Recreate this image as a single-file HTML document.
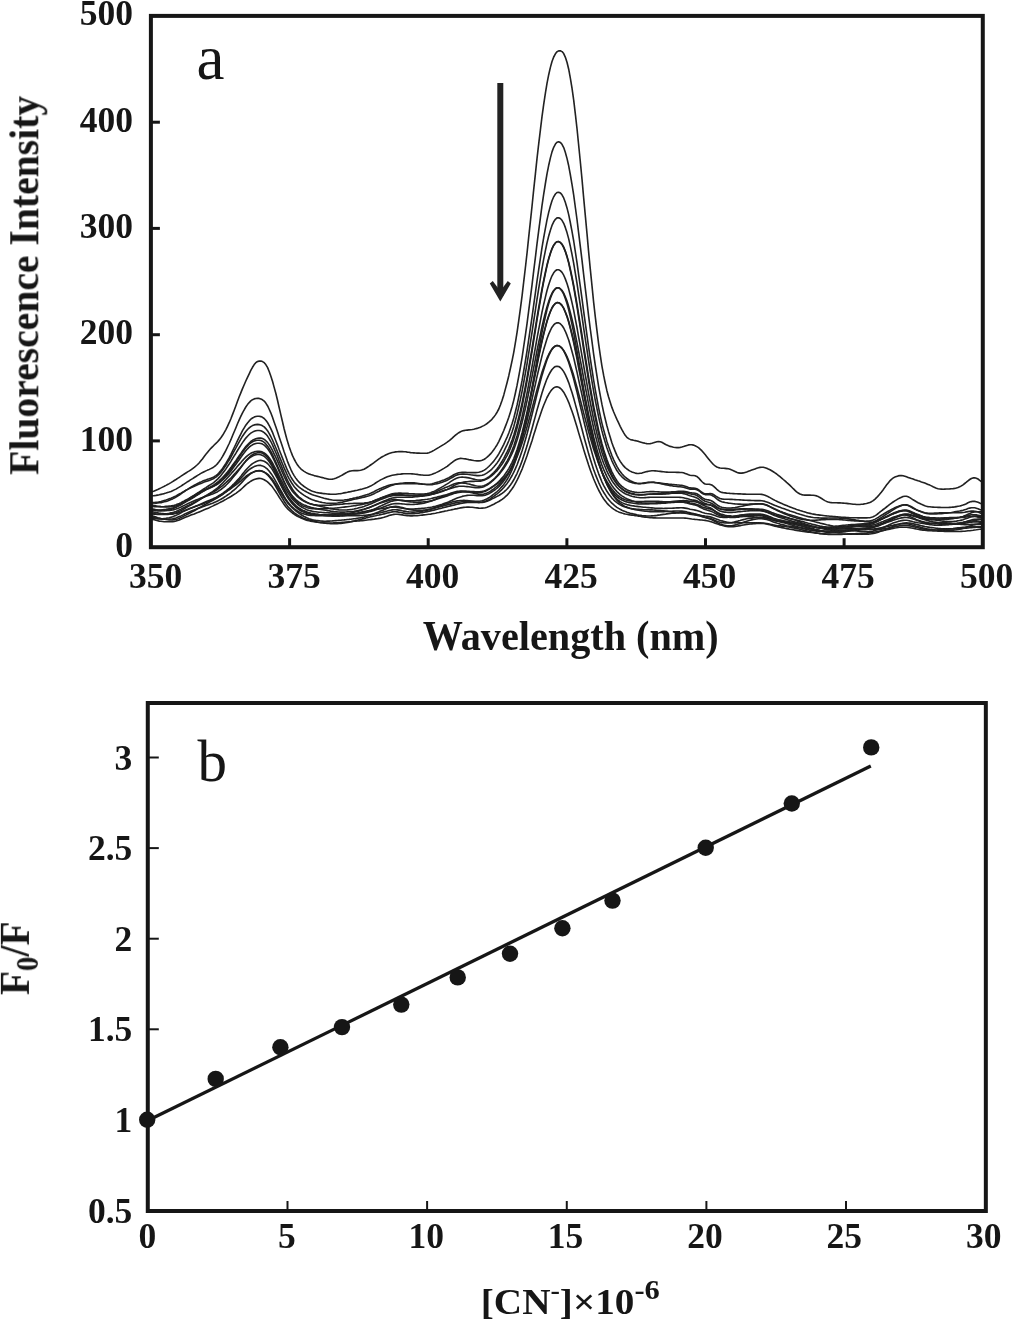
<!DOCTYPE html>
<html lang="en"><head><meta charset="utf-8"><title>Fluorescence quenching</title>
<style>
html,body{margin:0;padding:0;background:#fff;}
svg{display:block}
text{font-family:"Liberation Serif",serif;fill:#161616;}
.b{font-weight:bold}
.t{font-weight:bold;font-size:35.5px}
.c path{fill:none;stroke:#202020;stroke-width:1.6;stroke-linejoin:round}
</style></head><body>
<svg width="1013" height="1321" viewBox="0 0 1013 1321">
<defs><filter id="soft" x="0" y="0" width="1013" height="1321" filterUnits="userSpaceOnUse"><feGaussianBlur stdDeviation="0.45"/></filter></defs>
<rect width="1013" height="1321" fill="#fff"/>
<g filter="url(#soft)">

<g class="c">
<path d="M151.0,491.9 L152.7,491.5 L154.3,490.9 L156.0,490.2 L157.7,489.5 L159.3,488.7 L161.0,487.9 L162.6,487.1 L164.3,486.3 L166.0,485.4 L167.6,484.5 L169.3,483.6 L171.0,482.6 L172.6,481.6 L174.3,480.5 L176.0,479.5 L177.6,478.4 L179.3,477.3 L181.0,476.2 L182.6,475.1 L184.3,474.0 L185.9,473.0 L187.6,471.9 L189.3,470.9 L190.9,469.8 L192.6,468.6 L194.3,467.4 L195.9,466.0 L197.6,464.5 L199.3,462.7 L200.9,460.8 L202.6,458.7 L204.2,456.5 L205.9,454.3 L207.6,452.2 L209.2,450.2 L210.9,448.3 L212.6,446.7 L214.2,445.0 L215.9,443.4 L217.6,441.7 L219.2,439.9 L220.9,437.7 L222.6,435.3 L224.2,432.6 L225.9,429.6 L227.5,426.3 L229.2,422.7 L230.9,418.8 L232.5,414.6 L234.2,410.2 L235.9,405.7 L237.5,401.2 L239.2,396.8 L240.9,392.6 L242.5,388.6 L244.2,384.7 L245.8,381.0 L247.5,377.4 L249.2,373.8 L250.8,370.4 L252.5,367.3 L254.2,364.6 L255.8,362.7 L257.5,361.5 L259.2,361.1 L260.8,361.1 L262.5,361.6 L264.2,362.7 L265.8,364.6 L267.5,367.4 L269.1,371.2 L270.8,375.9 L272.5,381.3 L274.1,387.1 L275.8,393.3 L277.5,400.2 L279.1,407.3 L280.8,414.6 L282.5,421.8 L284.1,428.8 L285.8,435.2 L287.4,441.1 L289.1,446.4 L290.8,451.2 L292.4,455.4 L294.1,459.0 L295.8,462.2 L297.4,464.8 L299.1,467.0 L300.8,468.8 L302.4,470.2 L304.1,471.4 L305.8,472.4 L307.4,473.2 L309.1,473.9 L310.7,474.6 L312.4,475.1 L314.1,475.6 L315.7,476.0 L317.4,476.4 L319.1,476.8 L320.7,477.2 L322.4,477.6 L324.1,478.1 L325.7,478.5 L327.4,478.9 L329.0,479.2 L330.7,479.3 L332.4,479.1 L334.0,478.7 L335.7,478.2 L337.4,477.5 L339.0,476.8 L340.7,475.9 L342.4,475.0 L344.0,474.0 L345.7,473.0 L347.4,472.1 L349.0,471.4 L350.7,471.0 L352.3,470.7 L354.0,470.6 L355.7,470.6 L357.3,470.6 L359.0,470.5 L360.7,470.3 L362.3,469.8 L364.0,469.2 L365.7,468.3 L367.3,467.3 L369.0,466.2 L370.6,465.0 L372.3,463.8 L374.0,462.6 L375.6,461.3 L377.3,460.1 L379.0,458.9 L380.6,457.8 L382.3,456.8 L384.0,455.9 L385.6,455.0 L387.3,454.2 L389.0,453.5 L390.6,453.0 L392.3,452.5 L393.9,452.2 L395.6,451.9 L397.3,451.7 L398.9,451.6 L400.6,451.5 L402.3,451.6 L403.9,451.7 L405.6,451.8 L407.3,452.1 L408.9,452.3 L410.6,452.6 L412.2,452.8 L413.9,452.9 L415.6,453.0 L417.2,453.1 L418.9,453.1 L420.6,453.2 L422.2,453.2 L423.9,453.2 L425.6,453.2 L427.2,453.1 L428.9,452.7 L430.6,452.1 L432.2,451.3 L433.9,450.4 L435.5,449.4 L437.2,448.4 L438.9,447.4 L440.5,446.4 L442.2,445.4 L443.9,444.4 L445.5,443.3 L447.2,442.2 L448.9,440.9 L450.5,439.6 L452.2,438.1 L453.8,436.6 L455.5,435.2 L457.2,433.8 L458.8,432.7 L460.5,431.7 L462.2,431.1 L463.8,430.6 L465.5,430.3 L467.2,430.1 L468.8,429.9 L470.5,429.7 L472.2,429.5 L473.8,429.2 L475.5,428.8 L477.1,428.4 L478.8,427.8 L480.5,427.2 L482.1,426.4 L483.8,425.6 L485.5,424.6 L487.1,423.5 L488.8,422.2 L490.5,420.7 L492.1,419.1 L493.8,417.1 L495.4,414.9 L497.1,412.2 L498.8,409.0 L500.4,405.0 L502.1,400.3 L503.8,394.9 L505.4,388.9 L507.1,382.5 L508.8,375.7 L510.4,368.5 L512.1,360.7 L513.8,352.1 L515.4,342.6 L517.1,332.2 L518.7,320.9 L520.4,308.7 L522.1,295.7 L523.7,281.9 L525.4,267.5 L527.1,252.5 L528.7,237.1 L530.4,221.3 L532.1,205.5 L533.7,189.6 L535.4,173.9 L537.0,158.6 L538.7,143.9 L540.4,129.8 L542.0,116.6 L543.7,104.3 L545.4,93.2 L547.0,83.3 L548.7,74.7 L550.4,67.4 L552.0,61.5 L553.7,57.0 L555.4,53.8 L557.0,51.8 L558.7,50.9 L560.3,50.8 L562.0,51.6 L563.7,53.6 L565.3,57.1 L567.0,62.3 L568.7,69.2 L570.3,77.8 L572.0,88.2 L573.7,100.2 L575.3,113.7 L577.0,128.5 L578.6,144.5 L580.3,161.5 L582.0,179.1 L583.6,197.1 L585.3,215.4 L587.0,233.6 L588.6,251.6 L590.3,269.1 L592.0,285.9 L593.6,301.8 L595.3,316.8 L597.0,330.8 L598.6,343.6 L600.3,355.3 L601.9,365.8 L603.6,375.2 L605.3,383.5 L606.9,390.7 L608.6,397.0 L610.3,402.5 L611.9,407.4 L613.6,411.8 L615.3,415.7 L616.9,419.4 L618.6,422.9 L620.2,426.3 L621.9,429.7 L623.6,432.7 L625.2,435.3 L626.9,437.3 L628.6,438.6 L630.2,439.4 L631.9,439.9 L633.6,440.3 L635.2,440.6 L636.9,441.0 L638.6,441.4 L640.2,441.9 L641.9,442.4 L643.5,442.9 L645.2,443.3 L646.9,443.6 L648.5,443.7 L650.2,443.6 L651.9,443.3 L653.5,442.8 L655.2,442.2 L656.9,441.8 L658.5,441.6 L660.2,441.8 L661.8,442.3 L663.5,443.2 L665.2,444.2 L666.8,445.1 L668.5,445.8 L670.2,446.4 L671.8,446.8 L673.5,447.2 L675.2,447.5 L676.8,447.6 L678.5,447.6 L680.2,447.4 L681.8,447.0 L683.5,446.5 L685.1,445.9 L686.8,445.4 L688.5,444.9 L690.1,444.7 L691.8,444.7 L693.5,445.1 L695.1,445.7 L696.8,446.6 L698.5,447.7 L700.1,449.1 L701.8,450.7 L703.4,452.6 L705.1,454.6 L706.8,456.7 L708.4,458.7 L710.1,460.8 L711.8,462.7 L713.4,464.5 L715.1,465.9 L716.8,467.0 L718.4,467.6 L720.1,468.0 L721.8,468.2 L723.4,468.3 L725.1,468.4 L726.7,468.6 L728.4,468.8 L730.1,469.3 L731.7,469.9 L733.4,470.7 L735.1,471.5 L736.7,472.3 L738.4,472.9 L740.1,473.1 L741.7,473.1 L743.4,472.9 L745.0,472.4 L746.7,471.9 L748.4,471.3 L750.0,470.7 L751.7,470.1 L753.4,469.5 L755.0,468.9 L756.7,468.3 L758.4,467.8 L760.0,467.4 L761.7,467.2 L763.4,467.3 L765.0,467.7 L766.7,468.2 L768.3,469.0 L770.0,469.8 L771.7,470.8 L773.3,471.8 L775.0,472.9 L776.7,474.0 L778.3,475.3 L780.0,476.7 L781.7,478.1 L783.3,479.5 L785.0,480.9 L786.6,482.4 L788.3,483.8 L790.0,485.4 L791.6,487.0 L793.3,488.7 L795.0,490.3 L796.6,491.8 L798.3,493.0 L800.0,494.0 L801.6,494.6 L803.3,495.0 L805.0,495.1 L806.6,495.1 L808.3,495.1 L809.9,495.1 L811.6,495.2 L813.3,495.2 L814.9,495.5 L816.6,495.9 L818.3,496.6 L819.9,497.5 L821.6,498.5 L823.3,499.6 L824.9,500.6 L826.6,501.4 L828.2,502.0 L829.9,502.4 L831.6,502.6 L833.2,502.7 L834.9,502.8 L836.6,502.8 L838.2,502.9 L839.9,502.9 L841.6,503.0 L843.2,503.1 L844.9,503.2 L846.6,503.4 L848.2,503.6 L849.9,503.8 L851.5,504.0 L853.2,504.2 L854.9,504.3 L856.5,504.5 L858.2,504.5 L859.9,504.5 L861.5,504.3 L863.2,504.1 L864.9,503.8 L866.5,503.5 L868.2,503.0 L869.8,502.5 L871.5,501.7 L873.2,500.6 L874.8,499.3 L876.5,497.7 L878.2,495.9 L879.8,494.0 L881.5,491.9 L883.2,489.7 L884.8,487.4 L886.5,485.1 L888.2,482.9 L889.8,480.9 L891.5,479.3 L893.1,478.0 L894.8,477.1 L896.5,476.4 L898.1,475.9 L899.8,475.6 L901.5,475.6 L903.1,475.8 L904.8,476.2 L906.5,476.8 L908.1,477.4 L909.8,478.0 L911.4,478.6 L913.1,479.1 L914.8,479.7 L916.4,480.2 L918.1,480.8 L919.8,481.3 L921.4,481.9 L923.1,482.4 L924.8,483.0 L926.4,483.7 L928.1,484.4 L929.8,485.1 L931.4,485.9 L933.1,486.8 L934.7,487.5 L936.4,488.2 L938.1,488.7 L939.7,489.0 L941.4,489.1 L943.1,489.2 L944.7,489.1 L946.4,489.0 L948.1,489.0 L949.7,488.9 L951.4,488.7 L953.0,488.6 L954.7,488.4 L956.4,488.0 L958.0,487.5 L959.7,486.8 L961.4,485.9 L963.0,484.8 L964.7,483.5 L966.4,482.2 L968.0,480.8 L969.7,479.5 L971.4,478.5 L973.0,477.9 L974.7,477.8 L976.3,478.2 L978.0,479.0 L979.7,480.3 L981.3,481.5 L983.0,482.6"/>
<path d="M151.0,495.8 L152.7,495.7 L154.3,495.6 L156.0,495.4 L157.7,495.1 L159.3,494.8 L161.0,494.4 L162.6,494.0 L164.3,493.6 L166.0,493.1 L167.6,492.5 L169.3,492.0 L171.0,491.4 L172.6,490.7 L174.3,489.9 L176.0,489.1 L177.6,488.1 L179.3,487.1 L181.0,486.1 L182.6,485.0 L184.3,483.9 L185.9,482.8 L187.6,481.7 L189.3,480.7 L190.9,479.6 L192.6,478.6 L194.3,477.5 L195.9,476.5 L197.6,475.4 L199.3,474.4 L200.9,473.4 L202.6,472.5 L204.2,471.7 L205.9,470.9 L207.6,470.1 L209.2,469.4 L210.9,468.6 L212.6,467.8 L214.2,466.7 L215.9,465.3 L217.6,463.6 L219.2,461.5 L220.9,459.1 L222.6,456.4 L224.2,453.5 L225.9,450.4 L227.5,447.0 L229.2,443.5 L230.9,439.7 L232.5,435.7 L234.2,431.7 L235.9,427.7 L237.5,423.8 L239.2,419.9 L240.9,416.2 L242.5,412.8 L244.2,409.8 L245.8,407.0 L247.5,404.6 L249.2,402.6 L250.8,400.9 L252.5,399.7 L254.2,398.9 L255.8,398.5 L257.5,398.3 L259.2,398.4 L260.8,398.9 L262.5,399.8 L264.2,401.1 L265.8,403.1 L267.5,405.7 L269.1,409.0 L270.8,412.8 L272.5,417.2 L274.1,421.9 L275.8,426.8 L277.5,431.7 L279.1,436.7 L280.8,441.8 L282.5,446.8 L284.1,451.7 L285.8,456.5 L287.4,461.1 L289.1,465.4 L290.8,469.3 L292.4,472.7 L294.1,475.6 L295.8,478.1 L297.4,480.3 L299.1,482.2 L300.8,483.8 L302.4,485.2 L304.1,486.5 L305.8,487.6 L307.4,488.7 L309.1,489.6 L310.7,490.5 L312.4,491.2 L314.1,491.7 L315.7,492.2 L317.4,492.6 L319.1,492.9 L320.7,493.1 L322.4,493.4 L324.1,493.6 L325.7,493.8 L327.4,494.0 L329.0,494.1 L330.7,494.2 L332.4,494.2 L334.0,494.2 L335.7,494.2 L337.4,494.0 L339.0,493.8 L340.7,493.6 L342.4,493.3 L344.0,492.9 L345.7,492.6 L347.4,492.3 L349.0,491.9 L350.7,491.6 L352.3,491.2 L354.0,490.9 L355.7,490.5 L357.3,490.2 L359.0,489.8 L360.7,489.4 L362.3,489.0 L364.0,488.5 L365.7,488.0 L367.3,487.5 L369.0,486.8 L370.6,486.1 L372.3,485.1 L374.0,484.1 L375.6,483.0 L377.3,481.9 L379.0,480.9 L380.6,479.9 L382.3,479.1 L384.0,478.3 L385.6,477.5 L387.3,476.8 L389.0,476.2 L390.6,475.7 L392.3,475.3 L393.9,475.0 L395.6,474.7 L397.3,474.4 L398.9,474.2 L400.6,474.1 L402.3,473.9 L403.9,473.8 L405.6,473.7 L407.3,473.7 L408.9,473.7 L410.6,473.8 L412.2,473.9 L413.9,474.0 L415.6,474.2 L417.2,474.4 L418.9,474.7 L420.6,474.9 L422.2,475.0 L423.9,475.2 L425.6,475.3 L427.2,475.3 L428.9,475.1 L430.6,474.8 L432.2,474.3 L433.9,473.6 L435.5,472.9 L437.2,472.1 L438.9,471.3 L440.5,470.4 L442.2,469.4 L443.9,468.4 L445.5,467.4 L447.2,466.3 L448.9,465.0 L450.5,463.7 L452.2,462.4 L453.8,461.1 L455.5,460.0 L457.2,459.2 L458.8,458.7 L460.5,458.4 L462.2,458.5 L463.8,458.7 L465.5,458.9 L467.2,459.2 L468.8,459.6 L470.5,459.9 L472.2,460.2 L473.8,460.5 L475.5,460.7 L477.1,460.9 L478.8,460.9 L480.5,460.7 L482.1,460.2 L483.8,459.5 L485.5,458.5 L487.1,457.2 L488.8,455.6 L490.5,453.9 L492.1,452.0 L493.8,449.8 L495.4,447.4 L497.1,444.7 L498.8,441.6 L500.4,438.1 L502.1,434.4 L503.8,430.5 L505.4,426.4 L507.1,422.0 L508.8,417.3 L510.4,412.2 L512.1,406.5 L513.8,400.1 L515.4,393.0 L517.1,385.2 L518.7,376.6 L520.4,367.3 L522.1,357.3 L523.7,346.5 L525.4,335.1 L527.1,323.1 L528.7,310.6 L530.4,297.6 L532.1,284.3 L533.7,270.9 L535.4,257.3 L537.0,243.9 L538.7,230.7 L540.4,217.9 L542.0,205.7 L543.7,194.1 L545.4,183.5 L547.0,173.8 L548.7,165.3 L550.4,157.9 L552.0,151.9 L553.7,147.3 L555.4,144.1 L557.0,142.2 L558.7,141.7 L560.3,142.4 L562.0,144.3 L563.7,147.6 L565.3,152.3 L567.0,158.4 L568.7,165.8 L570.3,174.5 L572.0,184.3 L573.7,195.2 L575.3,207.0 L577.0,219.5 L578.6,232.7 L580.3,246.3 L582.0,260.2 L583.6,274.2 L585.3,288.3 L587.0,302.2 L588.6,315.8 L590.3,329.0 L592.0,341.7 L593.6,353.8 L595.3,365.3 L597.0,376.2 L598.6,386.3 L600.3,395.6 L601.9,404.2 L603.6,412.1 L605.3,419.2 L606.9,425.8 L608.6,431.9 L610.3,437.5 L611.9,442.7 L613.6,447.4 L615.3,451.6 L616.9,455.4 L618.6,458.6 L620.2,461.4 L621.9,463.8 L623.6,465.9 L625.2,467.6 L626.9,469.0 L628.6,470.2 L630.2,471.1 L631.9,472.0 L633.6,472.6 L635.2,473.1 L636.9,473.4 L638.6,473.5 L640.2,473.3 L641.9,473.1 L643.5,472.6 L645.2,472.1 L646.9,471.6 L648.5,471.2 L650.2,471.0 L651.9,470.8 L653.5,470.8 L655.2,470.9 L656.9,471.0 L658.5,471.2 L660.2,471.4 L661.8,471.6 L663.5,471.8 L665.2,472.0 L666.8,472.1 L668.5,472.2 L670.2,472.2 L671.8,472.3 L673.5,472.3 L675.2,472.3 L676.8,472.4 L678.5,472.4 L680.2,472.5 L681.8,472.5 L683.5,472.8 L685.1,473.4 L686.8,474.0 L688.5,474.7 L690.1,475.2 L691.8,475.5 L693.5,475.5 L695.1,475.7 L696.8,476.4 L698.5,477.8 L700.1,479.6 L701.8,481.5 L703.4,483.0 L705.1,484.0 L706.8,484.3 L708.4,484.3 L710.1,484.4 L711.8,485.0 L713.4,486.1 L715.1,487.6 L716.8,489.3 L718.4,490.7 L720.1,491.8 L721.8,492.4 L723.4,492.8 L725.1,492.9 L726.7,493.1 L728.4,493.2 L730.1,493.4 L731.7,493.5 L733.4,493.6 L735.1,493.7 L736.7,493.8 L738.4,493.9 L740.1,493.9 L741.7,494.0 L743.4,494.1 L745.0,494.1 L746.7,494.2 L748.4,494.2 L750.0,494.2 L751.7,494.2 L753.4,494.2 L755.0,494.2 L756.7,494.2 L758.4,494.2 L760.0,494.3 L761.7,494.4 L763.4,494.7 L765.0,495.2 L766.7,495.9 L768.3,496.7 L770.0,497.6 L771.7,498.6 L773.3,499.5 L775.0,500.4 L776.7,501.2 L778.3,502.0 L780.0,502.7 L781.7,503.4 L783.3,504.2 L785.0,504.9 L786.6,505.6 L788.3,506.3 L790.0,506.9 L791.6,507.6 L793.3,508.2 L795.0,508.8 L796.6,509.4 L798.3,509.9 L800.0,510.5 L801.6,511.0 L803.3,511.6 L805.0,512.1 L806.6,512.6 L808.3,513.0 L809.9,513.4 L811.6,513.8 L813.3,514.1 L814.9,514.4 L816.6,514.7 L818.3,514.9 L819.9,515.1 L821.6,515.3 L823.3,515.5 L824.9,515.7 L826.6,515.9 L828.2,516.0 L829.9,516.2 L831.6,516.3 L833.2,516.5 L834.9,516.6 L836.6,516.7 L838.2,516.9 L839.9,517.0 L841.6,517.2 L843.2,517.3 L844.9,517.4 L846.6,517.5 L848.2,517.6 L849.9,517.7 L851.5,517.8 L853.2,517.8 L854.9,517.8 L856.5,517.8 L858.2,517.9 L859.9,517.9 L861.5,517.9 L863.2,517.9 L864.9,517.9 L866.5,517.9 L868.2,517.8 L869.8,517.7 L871.5,517.3 L873.2,516.8 L874.8,515.9 L876.5,514.8 L878.2,513.5 L879.8,512.1 L881.5,510.8 L883.2,509.5 L884.8,508.3 L886.5,507.0 L888.2,505.7 L889.8,504.4 L891.5,503.2 L893.1,502.0 L894.8,500.9 L896.5,499.9 L898.1,498.9 L899.8,498.0 L901.5,497.2 L903.1,496.5 L904.8,496.2 L906.5,496.3 L908.1,496.8 L909.8,497.6 L911.4,498.7 L913.1,499.8 L914.8,500.8 L916.4,501.8 L918.1,502.7 L919.8,503.5 L921.4,504.3 L923.1,505.0 L924.8,505.7 L926.4,506.2 L928.1,506.6 L929.8,506.8 L931.4,507.0 L933.1,507.1 L934.7,507.2 L936.4,507.3 L938.1,507.4 L939.7,507.4 L941.4,507.5 L943.1,507.5 L944.7,507.5 L946.4,507.5 L948.1,507.5 L949.7,507.4 L951.4,507.3 L953.0,507.1 L954.7,506.9 L956.4,506.6 L958.0,506.3 L959.7,506.0 L961.4,505.6 L963.0,505.1 L964.7,504.4 L966.4,503.7 L968.0,502.8 L969.7,502.1 L971.4,501.6 L973.0,501.3 L974.7,501.4 L976.3,501.7 L978.0,502.2 L979.7,503.0 L981.3,503.7 L983.0,504.3"/>
<path d="M151.0,502.8 L152.7,503.0 L154.3,503.0 L156.0,503.1 L157.7,503.0 L159.3,502.8 L161.0,502.6 L162.6,502.2 L164.3,501.8 L166.0,501.4 L167.6,500.9 L169.3,500.3 L171.0,499.6 L172.6,498.9 L174.3,498.1 L176.0,497.1 L177.6,496.1 L179.3,495.0 L181.0,493.8 L182.6,492.7 L184.3,491.5 L185.9,490.4 L187.6,489.3 L189.3,488.2 L190.9,487.2 L192.6,486.3 L194.3,485.3 L195.9,484.4 L197.6,483.5 L199.3,482.6 L200.9,481.9 L202.6,481.1 L204.2,480.5 L205.9,479.9 L207.6,479.3 L209.2,478.8 L210.9,478.2 L212.6,477.6 L214.2,476.7 L215.9,475.6 L217.6,474.3 L219.2,472.6 L220.9,470.6 L222.6,468.4 L224.2,466.0 L225.9,463.4 L227.5,460.6 L229.2,457.6 L230.9,454.3 L232.5,451.0 L234.2,447.5 L235.9,444.0 L237.5,440.6 L239.2,437.1 L240.9,433.8 L242.5,430.7 L244.2,427.8 L245.8,425.2 L247.5,422.9 L249.2,420.9 L250.8,419.2 L252.5,418.0 L254.2,417.1 L255.8,416.5 L257.5,416.2 L259.2,416.2 L260.8,416.6 L262.5,417.3 L264.2,418.5 L265.8,420.2 L267.5,422.5 L269.1,425.3 L270.8,428.7 L272.5,432.4 L274.1,436.5 L275.8,440.8 L277.5,445.1 L279.1,449.5 L280.8,453.8 L282.5,458.1 L284.1,462.3 L285.8,466.4 L287.4,470.2 L289.1,473.7 L290.8,476.8 L292.4,479.5 L294.1,481.9 L295.8,483.9 L297.4,485.6 L299.1,487.1 L300.8,488.4 L302.4,489.5 L304.1,490.6 L305.8,491.5 L307.4,492.4 L309.1,493.3 L310.7,494.0 L312.4,494.7 L314.1,495.3 L315.7,495.8 L317.4,496.3 L319.1,496.8 L320.7,497.3 L322.4,497.7 L324.1,498.2 L325.7,498.6 L327.4,499.0 L329.0,499.4 L330.7,499.7 L332.4,500.0 L334.0,500.2 L335.7,500.3 L337.4,500.4 L339.0,500.4 L340.7,500.3 L342.4,500.2 L344.0,500.0 L345.7,499.7 L347.4,499.5 L349.0,499.2 L350.7,498.8 L352.3,498.5 L354.0,498.1 L355.7,497.8 L357.3,497.4 L359.0,497.0 L360.7,496.5 L362.3,496.1 L364.0,495.6 L365.7,495.1 L367.3,494.6 L369.0,494.0 L370.6,493.3 L372.3,492.5 L374.0,491.7 L375.6,490.8 L377.3,489.9 L379.0,489.1 L380.6,488.4 L382.3,487.7 L384.0,487.0 L385.6,486.4 L387.3,485.8 L389.0,485.3 L390.6,484.9 L392.3,484.6 L393.9,484.3 L395.6,484.1 L397.3,484.0 L398.9,483.8 L400.6,483.7 L402.3,483.7 L403.9,483.6 L405.6,483.6 L407.3,483.6 L408.9,483.5 L410.6,483.6 L412.2,483.6 L413.9,483.6 L415.6,483.7 L417.2,483.8 L418.9,483.9 L420.6,484.0 L422.2,484.1 L423.9,484.2 L425.6,484.3 L427.2,484.3 L428.9,484.2 L430.6,484.0 L432.2,483.7 L433.9,483.3 L435.5,482.8 L437.2,482.3 L438.9,481.8 L440.5,481.2 L442.2,480.6 L443.9,480.0 L445.5,479.3 L447.2,478.5 L448.9,477.7 L450.5,476.8 L452.2,475.8 L453.8,474.8 L455.5,473.9 L457.2,473.2 L458.8,472.8 L460.5,472.5 L462.2,472.4 L463.8,472.4 L465.5,472.4 L467.2,472.5 L468.8,472.5 L470.5,472.6 L472.2,472.6 L473.8,472.6 L475.5,472.6 L477.1,472.5 L478.8,472.2 L480.5,471.8 L482.1,471.2 L483.8,470.4 L485.5,469.3 L487.1,468.0 L488.8,466.5 L490.5,464.8 L492.1,463.0 L493.8,461.1 L495.4,458.9 L497.1,456.5 L498.8,453.9 L500.4,450.9 L502.1,447.7 L503.8,444.4 L505.4,440.8 L507.1,437.1 L508.8,433.0 L510.4,428.5 L512.1,423.5 L513.8,418.0 L515.4,411.8 L517.1,404.9 L518.7,397.4 L520.4,389.2 L522.1,380.4 L523.7,371.0 L525.4,361.0 L527.1,350.5 L528.7,339.5 L530.4,328.2 L532.1,316.6 L533.7,304.8 L535.4,292.9 L537.0,281.2 L538.7,269.6 L540.4,258.4 L542.0,247.7 L543.7,237.6 L545.4,228.3 L547.0,219.9 L548.7,212.4 L550.4,206.0 L552.0,200.8 L553.7,196.8 L555.4,194.0 L557.0,192.5 L558.7,192.2 L560.3,192.9 L562.0,194.8 L563.7,197.9 L565.3,202.3 L567.0,207.9 L568.7,214.6 L570.3,222.5 L572.0,231.3 L573.7,241.0 L575.3,251.5 L577.0,262.7 L578.6,274.4 L580.3,286.4 L582.0,298.6 L583.6,310.9 L585.3,323.2 L587.0,335.3 L588.6,347.1 L590.3,358.6 L592.0,369.6 L593.6,380.0 L595.3,389.9 L597.0,399.2 L598.6,407.8 L600.3,415.8 L601.9,423.1 L603.6,429.7 L605.3,435.8 L606.9,441.4 L608.6,446.5 L610.3,451.2 L611.9,455.6 L613.6,459.6 L615.3,463.2 L616.9,466.4 L618.6,469.2 L620.2,471.6 L621.9,473.7 L623.6,475.6 L625.2,477.2 L626.9,478.5 L628.6,479.7 L630.2,480.7 L631.9,481.5 L633.6,482.3 L635.2,482.8 L636.9,483.3 L638.6,483.5 L640.2,483.6 L641.9,483.5 L643.5,483.4 L645.2,483.1 L646.9,482.8 L648.5,482.6 L650.2,482.5 L651.9,482.4 L653.5,482.4 L655.2,482.6 L656.9,482.7 L658.5,482.9 L660.2,483.1 L661.8,483.3 L663.5,483.5 L665.2,483.7 L666.8,483.9 L668.5,484.1 L670.2,484.2 L671.8,484.4 L673.5,484.5 L675.2,484.7 L676.8,484.9 L678.5,485.0 L680.2,485.2 L681.8,485.4 L683.5,485.7 L685.1,486.2 L686.8,486.8 L688.5,487.4 L690.1,487.9 L691.8,488.1 L693.5,488.1 L695.1,488.2 L696.8,488.7 L698.5,489.7 L700.1,491.0 L701.8,492.3 L703.4,493.3 L705.1,493.9 L706.8,493.9 L708.4,493.7 L710.1,493.6 L711.8,493.8 L713.4,494.5 L715.1,495.6 L716.8,496.8 L718.4,497.8 L720.1,498.5 L721.8,498.9 L723.4,499.1 L725.1,499.2 L726.7,499.2 L728.4,499.3 L730.1,499.4 L731.7,499.4 L733.4,499.5 L735.1,499.6 L736.7,499.7 L738.4,499.8 L740.1,499.9 L741.7,500.0 L743.4,500.1 L745.0,500.2 L746.7,500.3 L748.4,500.4 L750.0,500.4 L751.7,500.5 L753.4,500.5 L755.0,500.6 L756.7,500.6 L758.4,500.6 L760.0,500.6 L761.7,500.8 L763.4,501.0 L765.0,501.4 L766.7,501.9 L768.3,502.5 L770.0,503.3 L771.7,504.0 L773.3,504.7 L775.0,505.4 L776.7,506.1 L778.3,506.7 L780.0,507.3 L781.7,507.9 L783.3,508.4 L785.0,509.1 L786.6,509.7 L788.3,510.3 L790.0,510.9 L791.6,511.4 L793.3,512.0 L795.0,512.6 L796.6,513.2 L798.3,513.7 L800.0,514.3 L801.6,514.8 L803.3,515.3 L805.0,515.8 L806.6,516.2 L808.3,516.6 L809.9,516.9 L811.6,517.2 L813.3,517.5 L814.9,517.7 L816.6,517.8 L818.3,517.9 L819.9,518.0 L821.6,518.1 L823.3,518.1 L824.9,518.1 L826.6,518.1 L828.2,518.0 L829.9,518.0 L831.6,518.0 L833.2,518.0 L834.9,518.0 L836.6,518.0 L838.2,518.0 L839.9,518.1 L841.6,518.2 L843.2,518.4 L844.9,518.5 L846.6,518.7 L848.2,518.9 L849.9,519.1 L851.5,519.4 L853.2,519.6 L854.9,519.9 L856.5,520.2 L858.2,520.4 L859.9,520.7 L861.5,521.0 L863.2,521.3 L864.9,521.6 L866.5,521.8 L868.2,522.0 L869.8,522.1 L871.5,522.1 L873.2,521.7 L874.8,521.2 L876.5,520.4 L878.2,519.4 L879.8,518.4 L881.5,517.4 L883.2,516.3 L884.8,515.3 L886.5,514.2 L888.2,513.1 L889.8,512.0 L891.5,510.9 L893.1,509.8 L894.8,508.8 L896.5,507.9 L898.1,507.0 L899.8,506.2 L901.5,505.5 L903.1,505.0 L904.8,504.7 L906.5,504.8 L908.1,505.2 L909.8,505.9 L911.4,506.8 L913.1,507.8 L914.8,508.7 L916.4,509.6 L918.1,510.4 L919.8,511.1 L921.4,511.8 L923.1,512.4 L924.8,513.0 L926.4,513.4 L928.1,513.7 L929.8,513.9 L931.4,514.0 L933.1,514.0 L934.7,514.0 L936.4,513.9 L938.1,513.8 L939.7,513.7 L941.4,513.6 L943.1,513.5 L944.7,513.3 L946.4,513.2 L948.1,513.0 L949.7,512.7 L951.4,512.5 L953.0,512.2 L954.7,511.9 L956.4,511.6 L958.0,511.3 L959.7,511.0 L961.4,510.6 L963.0,510.2 L964.7,509.7 L966.4,509.2 L968.0,508.6 L969.7,508.1 L971.4,507.8 L973.0,507.7 L974.7,507.8 L976.3,508.2 L978.0,508.7 L979.7,509.5 L981.3,510.1 L983.0,510.7"/>
<path d="M151.0,502.7 L152.7,502.6 L154.3,502.6 L156.0,502.4 L157.7,502.2 L159.3,501.9 L161.0,501.5 L162.6,501.0 L164.3,500.5 L166.0,500.0 L167.6,499.4 L169.3,498.8 L171.0,498.2 L172.6,497.5 L174.3,496.7 L176.0,495.9 L177.6,495.0 L179.3,494.0 L181.0,493.1 L182.6,492.1 L184.3,491.2 L185.9,490.3 L187.6,489.4 L189.3,488.6 L190.9,487.8 L192.6,487.1 L194.3,486.3 L195.9,485.6 L197.6,484.8 L199.3,484.1 L200.9,483.4 L202.6,482.8 L204.2,482.1 L205.9,481.6 L207.6,481.0 L209.2,480.4 L210.9,479.8 L212.6,479.1 L214.2,478.2 L215.9,477.1 L217.6,475.7 L219.2,474.1 L220.9,472.2 L222.6,470.0 L224.2,467.8 L225.9,465.3 L227.5,462.7 L229.2,460.0 L230.9,457.0 L232.5,454.0 L234.2,450.9 L235.9,447.9 L237.5,444.8 L239.2,441.8 L240.9,438.9 L242.5,436.2 L244.2,433.7 L245.8,431.5 L247.5,429.5 L249.2,427.9 L250.8,426.6 L252.5,425.6 L254.2,424.9 L255.8,424.6 L257.5,424.4 L259.2,424.6 L260.8,425.0 L262.5,425.8 L264.2,426.9 L265.8,428.6 L267.5,430.7 L269.1,433.4 L270.8,436.5 L272.5,440.0 L274.1,443.8 L275.8,447.8 L277.5,451.8 L279.1,455.9 L280.8,459.9 L282.5,464.0 L284.1,467.9 L285.8,471.7 L287.4,475.3 L289.1,478.6 L290.8,481.5 L292.4,484.1 L294.1,486.4 L295.8,488.4 L297.4,490.1 L299.1,491.6 L300.8,493.0 L302.4,494.2 L304.1,495.3 L305.8,496.4 L307.4,497.3 L309.1,498.2 L310.7,499.0 L312.4,499.7 L314.1,500.3 L315.7,500.9 L317.4,501.3 L319.1,501.8 L320.7,502.1 L322.4,502.5 L324.1,502.7 L325.7,503.0 L327.4,503.2 L329.0,503.3 L330.7,503.4 L332.4,503.4 L334.0,503.3 L335.7,503.2 L337.4,503.0 L339.0,502.7 L340.7,502.4 L342.4,502.1 L344.0,501.7 L345.7,501.3 L347.4,500.9 L349.0,500.5 L350.7,500.1 L352.3,499.7 L354.0,499.3 L355.7,499.0 L357.3,498.6 L359.0,498.2 L360.7,497.9 L362.3,497.5 L364.0,497.1 L365.7,496.7 L367.3,496.3 L369.0,495.8 L370.6,495.2 L372.3,494.5 L374.0,493.7 L375.6,492.9 L377.3,492.0 L379.0,491.2 L380.6,490.3 L382.3,489.5 L384.0,488.8 L385.6,488.0 L387.3,487.2 L389.0,486.5 L390.6,485.8 L392.3,485.2 L393.9,484.7 L395.6,484.3 L397.3,483.9 L398.9,483.6 L400.6,483.4 L402.3,483.2 L403.9,483.0 L405.6,482.9 L407.3,482.8 L408.9,482.8 L410.6,482.8 L412.2,482.8 L413.9,482.9 L415.6,483.1 L417.2,483.3 L418.9,483.5 L420.6,483.7 L422.2,484.0 L423.9,484.2 L425.6,484.5 L427.2,484.7 L428.9,484.8 L430.6,484.7 L432.2,484.6 L433.9,484.3 L435.5,484.0 L437.2,483.6 L438.9,483.2 L440.5,482.7 L442.2,482.2 L443.9,481.6 L445.5,480.9 L447.2,480.2 L448.9,479.4 L450.5,478.4 L452.2,477.5 L453.8,476.5 L455.5,475.6 L457.2,474.9 L458.8,474.5 L460.5,474.2 L462.2,474.1 L463.8,474.1 L465.5,474.2 L467.2,474.3 L468.8,474.5 L470.5,474.8 L472.2,475.0 L473.8,475.2 L475.5,475.4 L477.1,475.6 L478.8,475.6 L480.5,475.5 L482.1,475.2 L483.8,474.7 L485.5,473.9 L487.1,472.9 L488.8,471.7 L490.5,470.3 L492.1,468.8 L493.8,467.0 L495.4,465.1 L497.1,462.9 L498.8,460.5 L500.4,457.7 L502.1,454.7 L503.8,451.6 L505.4,448.2 L507.1,444.6 L508.8,440.7 L510.4,436.5 L512.1,431.7 L513.8,426.4 L515.4,420.5 L517.1,414.1 L518.7,407.0 L520.4,399.4 L522.1,391.1 L523.7,382.4 L525.4,373.1 L527.1,363.3 L528.7,353.2 L530.4,342.7 L532.1,331.9 L533.7,321.1 L535.4,310.1 L537.0,299.3 L538.7,288.7 L540.4,278.4 L542.0,268.5 L543.7,259.2 L545.4,250.7 L547.0,242.9 L548.7,236.0 L550.4,230.2 L552.0,225.4 L553.7,221.8 L555.4,219.3 L557.0,217.9 L558.7,217.7 L560.3,218.5 L562.0,220.3 L563.7,223.3 L565.3,227.4 L567.0,232.6 L568.7,238.9 L570.3,246.2 L572.0,254.4 L573.7,263.4 L575.3,273.1 L577.0,283.4 L578.6,294.1 L580.3,305.2 L582.0,316.4 L583.6,327.7 L585.3,339.0 L587.0,350.1 L588.6,360.9 L590.3,371.5 L592.0,381.6 L593.6,391.2 L595.3,400.3 L597.0,408.8 L598.6,416.7 L600.3,424.1 L601.9,430.9 L603.6,437.0 L605.3,442.6 L606.9,447.8 L608.6,452.5 L610.3,456.8 L611.9,460.8 L613.6,464.4 L615.3,467.7 L616.9,470.5 L618.6,472.9 L620.2,475.0 L621.9,476.8 L623.6,478.3 L625.2,479.6 L626.9,480.6 L628.6,481.4 L630.2,482.1 L631.9,482.6 L633.6,483.0 L635.2,483.4 L636.9,483.5 L638.6,483.6 L640.2,483.5 L641.9,483.3 L643.5,483.0 L645.2,482.7 L646.9,482.5 L648.5,482.3 L650.2,482.2 L651.9,482.2 L653.5,482.3 L655.2,482.5 L656.9,482.8 L658.5,483.1 L660.2,483.5 L661.8,483.9 L663.5,484.3 L665.2,484.6 L666.8,485.0 L668.5,485.3 L670.2,485.6 L671.8,485.8 L673.5,486.1 L675.2,486.3 L676.8,486.5 L678.5,486.7 L680.2,486.8 L681.8,487.0 L683.5,487.3 L685.1,487.7 L686.8,488.2 L688.5,488.7 L690.1,489.1 L691.8,489.2 L693.5,489.2 L695.1,489.2 L696.8,489.7 L698.5,490.5 L700.1,491.7 L701.8,493.0 L703.4,494.0 L705.1,494.6 L706.8,494.7 L708.4,494.7 L710.1,494.8 L711.8,495.3 L713.4,496.2 L715.1,497.4 L716.8,498.8 L718.4,500.0 L720.1,501.0 L721.8,501.7 L723.4,502.1 L725.1,502.5 L726.7,502.8 L728.4,503.1 L730.1,503.3 L731.7,503.5 L733.4,503.7 L735.1,503.9 L736.7,504.0 L738.4,504.1 L740.1,504.1 L741.7,504.2 L743.4,504.2 L745.0,504.2 L746.7,504.2 L748.4,504.2 L750.0,504.1 L751.7,504.1 L753.4,504.0 L755.0,504.0 L756.7,503.9 L758.4,503.9 L760.0,503.9 L761.7,504.0 L763.4,504.3 L765.0,504.7 L766.7,505.3 L768.3,506.0 L770.0,506.8 L771.7,507.7 L773.3,508.5 L775.0,509.4 L776.7,510.2 L778.3,511.0 L780.0,511.7 L781.7,512.5 L783.3,513.2 L785.0,513.9 L786.6,514.6 L788.3,515.3 L790.0,515.9 L791.6,516.5 L793.3,517.1 L795.0,517.6 L796.6,518.1 L798.3,518.5 L800.0,518.9 L801.6,519.2 L803.3,519.5 L805.0,519.8 L806.6,519.9 L808.3,520.1 L809.9,520.2 L811.6,520.2 L813.3,520.2 L814.9,520.2 L816.6,520.1 L818.3,520.0 L819.9,519.9 L821.6,519.8 L823.3,519.7 L824.9,519.6 L826.6,519.5 L828.2,519.5 L829.9,519.4 L831.6,519.4 L833.2,519.4 L834.9,519.4 L836.6,519.4 L838.2,519.5 L839.9,519.6 L841.6,519.7 L843.2,519.9 L844.9,520.0 L846.6,520.2 L848.2,520.4 L849.9,520.5 L851.5,520.6 L853.2,520.8 L854.9,520.9 L856.5,521.0 L858.2,521.0 L859.9,521.1 L861.5,521.1 L863.2,521.1 L864.9,521.2 L866.5,521.1 L868.2,521.1 L869.8,520.9 L871.5,520.6 L873.2,520.1 L874.8,519.4 L876.5,518.4 L878.2,517.4 L879.8,516.3 L881.5,515.3 L883.2,514.3 L884.8,513.3 L886.5,512.3 L888.2,511.3 L889.8,510.4 L891.5,509.4 L893.1,508.6 L894.8,507.8 L896.5,507.1 L898.1,506.4 L899.8,505.8 L901.5,505.4 L903.1,505.0 L904.8,504.9 L906.5,505.1 L908.1,505.6 L909.8,506.4 L911.4,507.3 L913.1,508.2 L914.8,509.1 L916.4,509.9 L918.1,510.6 L919.8,511.3 L921.4,511.8 L923.1,512.3 L924.8,512.8 L926.4,513.0 L928.1,513.2 L929.8,513.3 L931.4,513.3 L933.1,513.2 L934.7,513.1 L936.4,513.1 L938.1,513.0 L939.7,512.9 L941.4,512.9 L943.1,512.8 L944.7,512.8 L946.4,512.8 L948.1,512.8 L949.7,512.8 L951.4,512.8 L953.0,512.8 L954.7,512.8 L956.4,512.8 L958.0,512.7 L959.7,512.7 L961.4,512.6 L963.0,512.5 L964.7,512.3 L966.4,511.9 L968.0,511.6 L969.7,511.3 L971.4,511.1 L973.0,511.1 L974.7,511.3 L976.3,511.6 L978.0,512.1 L979.7,512.8 L981.3,513.4 L983.0,513.9"/>
<path d="M151.0,506.4 L152.7,506.5 L154.3,506.6 L156.0,506.7 L157.7,506.8 L159.3,506.8 L161.0,506.7 L162.6,506.7 L164.3,506.6 L166.0,506.4 L167.6,506.3 L169.3,506.1 L171.0,505.9 L172.6,505.6 L174.3,505.2 L176.0,504.7 L177.6,504.1 L179.3,503.4 L181.0,502.6 L182.6,501.7 L184.3,500.9 L185.9,500.0 L187.6,499.1 L189.3,498.1 L190.9,497.2 L192.6,496.2 L194.3,495.2 L195.9,494.1 L197.6,493.0 L199.3,491.9 L200.9,490.8 L202.6,489.7 L204.2,488.6 L205.9,487.6 L207.6,486.5 L209.2,485.5 L210.9,484.4 L212.6,483.3 L214.2,482.1 L215.9,480.7 L217.6,479.1 L219.2,477.4 L220.9,475.4 L222.6,473.3 L224.2,471.2 L225.9,468.9 L227.5,466.5 L229.2,464.0 L230.9,461.4 L232.5,458.7 L234.2,455.9 L235.9,453.2 L237.5,450.5 L239.2,447.8 L240.9,445.1 L242.5,442.6 L244.2,440.2 L245.8,438.1 L247.5,436.2 L249.2,434.5 L250.8,433.1 L252.5,432.1 L254.2,431.3 L255.8,430.8 L257.5,430.5 L259.2,430.5 L260.8,430.8 L262.5,431.5 L264.2,432.6 L265.8,434.1 L267.5,436.1 L269.1,438.6 L270.8,441.5 L272.5,444.9 L274.1,448.6 L275.8,452.5 L277.5,456.5 L279.1,460.6 L280.8,464.6 L282.5,468.7 L284.1,472.7 L285.8,476.6 L287.4,480.2 L289.1,483.5 L290.8,486.5 L292.4,489.2 L294.1,491.5 L295.8,493.6 L297.4,495.4 L299.1,497.0 L300.8,498.4 L302.4,499.7 L304.1,500.8 L305.8,501.7 L307.4,502.6 L309.1,503.3 L310.7,503.9 L312.4,504.3 L314.1,504.7 L315.7,504.9 L317.4,505.1 L319.1,505.2 L320.7,505.3 L322.4,505.3 L324.1,505.3 L325.7,505.3 L327.4,505.2 L329.0,505.2 L330.7,505.1 L332.4,505.0 L334.0,504.8 L335.7,504.7 L337.4,504.5 L339.0,504.4 L340.7,504.2 L342.4,504.1 L344.0,503.9 L345.7,503.8 L347.4,503.7 L349.0,503.6 L350.7,503.5 L352.3,503.5 L354.0,503.4 L355.7,503.4 L357.3,503.4 L359.0,503.3 L360.7,503.3 L362.3,503.2 L364.0,503.1 L365.7,502.9 L367.3,502.7 L369.0,502.4 L370.6,502.0 L372.3,501.5 L374.0,500.9 L375.6,500.2 L377.3,499.5 L379.0,498.9 L380.6,498.2 L382.3,497.5 L384.0,496.8 L385.6,496.2 L387.3,495.5 L389.0,494.9 L390.6,494.3 L392.3,493.9 L393.9,493.6 L395.6,493.3 L397.3,493.2 L398.9,493.1 L400.6,493.1 L402.3,493.2 L403.9,493.2 L405.6,493.3 L407.3,493.4 L408.9,493.6 L410.6,493.7 L412.2,493.8 L413.9,493.9 L415.6,494.0 L417.2,494.0 L418.9,494.1 L420.6,494.1 L422.2,494.0 L423.9,494.0 L425.6,493.8 L427.2,493.6 L428.9,493.2 L430.6,492.8 L432.2,492.1 L433.9,491.4 L435.5,490.6 L437.2,489.7 L438.9,488.8 L440.5,487.9 L442.2,486.9 L443.9,485.9 L445.5,484.9 L447.2,483.9 L448.9,482.8 L450.5,481.7 L452.2,480.6 L453.8,479.6 L455.5,478.7 L457.2,478.0 L458.8,477.5 L460.5,477.2 L462.2,477.1 L463.8,477.2 L465.5,477.4 L467.2,477.6 L468.8,477.9 L470.5,478.3 L472.2,478.7 L473.8,479.1 L475.5,479.5 L477.1,479.8 L478.8,480.0 L480.5,480.1 L482.1,479.9 L483.8,479.5 L485.5,478.9 L487.1,478.0 L488.8,476.9 L490.5,475.6 L492.1,474.1 L493.8,472.5 L495.4,470.7 L497.1,468.7 L498.8,466.4 L500.4,463.9 L502.1,461.2 L503.8,458.3 L505.4,455.2 L507.1,451.9 L508.8,448.3 L510.4,444.4 L512.1,440.0 L513.8,435.1 L515.4,429.8 L517.1,423.8 L518.7,417.4 L520.4,410.4 L522.1,402.8 L523.7,394.7 L525.4,386.2 L527.1,377.1 L528.7,367.7 L530.4,358.0 L532.1,348.0 L533.7,337.9 L535.4,327.7 L537.0,317.6 L538.7,307.7 L540.4,298.1 L542.0,288.8 L543.7,280.2 L545.4,272.2 L547.0,264.9 L548.7,258.5 L550.4,253.1 L552.0,248.6 L553.7,245.2 L555.4,242.9 L557.0,241.7 L558.7,241.6 L560.3,242.4 L562.0,244.2 L563.7,247.1 L565.3,251.1 L567.0,256.1 L568.7,262.1 L570.3,269.0 L572.0,276.8 L573.7,285.3 L575.3,294.4 L577.0,304.1 L578.6,314.2 L580.3,324.6 L582.0,335.2 L583.6,345.8 L585.3,356.5 L587.0,366.9 L588.6,377.2 L590.3,387.1 L592.0,396.7 L593.6,405.8 L595.3,414.4 L597.0,422.5 L598.6,430.1 L600.3,437.1 L601.9,443.5 L603.6,449.4 L605.3,454.7 L606.9,459.6 L608.6,464.0 L610.3,468.1 L611.9,471.8 L613.6,475.2 L615.3,478.1 L616.9,480.7 L618.6,482.9 L620.2,484.8 L621.9,486.4 L623.6,487.7 L625.2,488.8 L626.9,489.7 L628.6,490.4 L630.2,491.0 L631.9,491.5 L633.6,491.9 L635.2,492.2 L636.9,492.4 L638.6,492.5 L640.2,492.5 L641.9,492.4 L643.5,492.2 L645.2,492.0 L646.9,491.8 L648.5,491.7 L650.2,491.6 L651.9,491.6 L653.5,491.6 L655.2,491.7 L656.9,491.8 L658.5,491.9 L660.2,492.0 L661.8,492.1 L663.5,492.1 L665.2,492.1 L666.8,492.1 L668.5,492.1 L670.2,492.0 L671.8,491.9 L673.5,491.8 L675.2,491.7 L676.8,491.5 L678.5,491.4 L680.2,491.3 L681.8,491.2 L683.5,491.3 L685.1,491.6 L686.8,491.9 L688.5,492.3 L690.1,492.7 L691.8,492.9 L693.5,493.0 L695.1,493.2 L696.8,493.8 L698.5,494.7 L700.1,496.0 L701.8,497.3 L703.4,498.4 L705.1,499.2 L706.8,499.6 L708.4,499.9 L710.1,500.3 L711.8,501.0 L713.4,502.0 L715.1,503.3 L716.8,504.6 L718.4,505.8 L720.1,506.7 L721.8,507.2 L723.4,507.6 L725.1,507.8 L726.7,508.0 L728.4,508.0 L730.1,508.0 L731.7,507.9 L733.4,507.7 L735.1,507.5 L736.7,507.2 L738.4,506.9 L740.1,506.5 L741.7,506.2 L743.4,505.9 L745.0,505.5 L746.7,505.2 L748.4,504.9 L750.0,504.6 L751.7,504.4 L753.4,504.2 L755.0,504.0 L756.7,503.9 L758.4,503.8 L760.0,503.8 L761.7,503.9 L763.4,504.1 L765.0,504.5 L766.7,505.1 L768.3,505.8 L770.0,506.6 L771.7,507.4 L773.3,508.2 L775.0,509.0 L776.7,509.8 L778.3,510.5 L780.0,511.2 L781.7,511.8 L783.3,512.5 L785.0,513.1 L786.6,513.7 L788.3,514.3 L790.0,514.8 L791.6,515.3 L793.3,515.8 L795.0,516.3 L796.6,516.8 L798.3,517.3 L800.0,517.7 L801.6,518.2 L803.3,518.7 L805.0,519.1 L806.6,519.6 L808.3,520.0 L809.9,520.5 L811.6,520.9 L813.3,521.3 L814.9,521.8 L816.6,522.2 L818.3,522.6 L819.9,523.1 L821.6,523.5 L823.3,523.9 L824.9,524.3 L826.6,524.7 L828.2,525.0 L829.9,525.4 L831.6,525.7 L833.2,526.0 L834.9,526.2 L836.6,526.4 L838.2,526.6 L839.9,526.7 L841.6,526.8 L843.2,526.9 L844.9,526.9 L846.6,526.9 L848.2,526.9 L849.9,526.8 L851.5,526.6 L853.2,526.5 L854.9,526.3 L856.5,526.1 L858.2,525.8 L859.9,525.6 L861.5,525.4 L863.2,525.1 L864.9,524.9 L866.5,524.7 L868.2,524.5 L869.8,524.2 L871.5,523.8 L873.2,523.3 L874.8,522.6 L876.5,521.8 L878.2,521.0 L879.8,520.1 L881.5,519.3 L883.2,518.5 L884.8,517.7 L886.5,516.9 L888.2,516.2 L889.8,515.4 L891.5,514.6 L893.1,513.9 L894.8,513.3 L896.5,512.7 L898.1,512.1 L899.8,511.6 L901.5,511.1 L903.1,510.8 L904.8,510.7 L906.5,510.8 L908.1,511.1 L909.8,511.7 L911.4,512.4 L913.1,513.1 L914.8,513.8 L916.4,514.4 L918.1,515.0 L919.8,515.5 L921.4,516.0 L923.1,516.5 L924.8,516.9 L926.4,517.2 L928.1,517.4 L929.8,517.6 L931.4,517.7 L933.1,517.8 L934.7,517.9 L936.4,518.0 L938.1,518.1 L939.7,518.2 L941.4,518.3 L943.1,518.4 L944.7,518.5 L946.4,518.5 L948.1,518.5 L949.7,518.5 L951.4,518.4 L953.0,518.3 L954.7,518.2 L956.4,517.9 L958.0,517.6 L959.7,517.3 L961.4,516.9 L963.0,516.4 L964.7,515.7 L966.4,515.0 L968.0,514.2 L969.7,513.5 L971.4,512.8 L973.0,512.3 L974.7,511.9 L976.3,511.7 L978.0,511.7 L979.7,511.8 L981.3,511.9 L983.0,511.9"/>
<path d="M151.0,505.0 L152.7,505.2 L154.3,505.5 L156.0,505.9 L157.7,506.2 L159.3,506.4 L161.0,506.6 L162.6,506.7 L164.3,506.8 L166.0,506.9 L167.6,506.9 L169.3,506.9 L171.0,506.8 L172.6,506.5 L174.3,506.2 L176.0,505.8 L177.6,505.2 L179.3,504.5 L181.0,503.7 L182.6,502.9 L184.3,502.0 L185.9,501.1 L187.6,500.2 L189.3,499.2 L190.9,498.3 L192.6,497.4 L194.3,496.4 L195.9,495.5 L197.6,494.5 L199.3,493.5 L200.9,492.6 L202.6,491.6 L204.2,490.8 L205.9,489.9 L207.6,489.1 L209.2,488.4 L210.9,487.6 L212.6,486.7 L214.2,485.8 L215.9,484.8 L217.6,483.6 L219.2,482.2 L220.9,480.7 L222.6,479.0 L224.2,477.3 L225.9,475.4 L227.5,473.4 L229.2,471.3 L230.9,469.1 L232.5,466.7 L234.2,464.3 L235.9,461.9 L237.5,459.5 L239.2,457.0 L240.9,454.5 L242.5,452.1 L244.2,449.9 L245.8,447.7 L247.5,445.9 L249.2,444.2 L250.8,442.9 L252.5,441.8 L254.2,441.0 L255.8,440.5 L257.5,440.2 L259.2,440.2 L260.8,440.5 L262.5,441.2 L264.2,442.3 L265.8,443.9 L267.5,445.9 L269.1,448.4 L270.8,451.3 L272.5,454.6 L274.1,458.2 L275.8,462.0 L277.5,466.0 L279.1,469.9 L280.8,473.9 L282.5,477.9 L284.1,481.7 L285.8,485.3 L287.4,488.7 L289.1,491.7 L290.8,494.5 L292.4,496.9 L294.1,498.9 L295.8,500.7 L297.4,502.3 L299.1,503.6 L300.8,504.7 L302.4,505.7 L304.1,506.5 L305.8,507.1 L307.4,507.7 L309.1,508.1 L310.7,508.5 L312.4,508.7 L314.1,508.8 L315.7,508.9 L317.4,508.9 L319.1,508.9 L320.7,508.9 L322.4,508.8 L324.1,508.7 L325.7,508.7 L327.4,508.6 L329.0,508.5 L330.7,508.4 L332.4,508.3 L334.0,508.2 L335.7,508.0 L337.4,507.9 L339.0,507.7 L340.7,507.5 L342.4,507.3 L344.0,507.1 L345.7,506.9 L347.4,506.7 L349.0,506.5 L350.7,506.3 L352.3,506.0 L354.0,505.8 L355.7,505.6 L357.3,505.3 L359.0,505.0 L360.7,504.7 L362.3,504.4 L364.0,504.0 L365.7,503.6 L367.3,503.2 L369.0,502.7 L370.6,502.1 L372.3,501.5 L374.0,500.8 L375.6,500.1 L377.3,499.4 L379.0,498.8 L380.6,498.1 L382.3,497.5 L384.0,496.9 L385.6,496.3 L387.3,495.7 L389.0,495.2 L390.6,494.8 L392.3,494.5 L393.9,494.3 L395.6,494.3 L397.3,494.3 L398.9,494.4 L400.6,494.6 L402.3,494.8 L403.9,495.0 L405.6,495.2 L407.3,495.4 L408.9,495.6 L410.6,495.7 L412.2,495.8 L413.9,495.8 L415.6,495.9 L417.2,495.8 L418.9,495.8 L420.6,495.7 L422.2,495.5 L423.9,495.4 L425.6,495.1 L427.2,494.8 L428.9,494.4 L430.6,493.9 L432.2,493.4 L433.9,492.7 L435.5,492.0 L437.2,491.3 L438.9,490.5 L440.5,489.8 L442.2,489.1 L443.9,488.3 L445.5,487.6 L447.2,486.9 L448.9,486.2 L450.5,485.4 L452.2,484.7 L453.8,484.0 L455.5,483.5 L457.2,483.1 L458.8,482.8 L460.5,482.8 L462.2,482.9 L463.8,483.1 L465.5,483.3 L467.2,483.7 L468.8,484.0 L470.5,484.4 L472.2,484.9 L473.8,485.3 L475.5,485.7 L477.1,486.0 L478.8,486.2 L480.5,486.2 L482.1,486.0 L483.8,485.7 L485.5,485.1 L487.1,484.2 L488.8,483.2 L490.5,482.0 L492.1,480.6 L493.8,479.2 L495.4,477.6 L497.1,475.8 L498.8,473.8 L500.4,471.6 L502.1,469.3 L503.8,466.7 L505.4,464.0 L507.1,461.1 L508.8,457.9 L510.4,454.4 L512.1,450.4 L513.8,446.0 L515.4,441.1 L517.1,435.7 L518.7,429.8 L520.4,423.4 L522.1,416.5 L523.7,409.1 L525.4,401.2 L527.1,392.9 L528.7,384.3 L530.4,375.4 L532.1,366.2 L533.7,356.9 L535.4,347.6 L537.0,338.4 L538.7,329.4 L540.4,320.6 L542.0,312.2 L543.7,304.3 L545.4,297.1 L547.0,290.5 L548.7,284.7 L550.4,279.8 L552.0,275.8 L553.7,272.8 L555.4,270.8 L557.0,269.8 L558.7,269.8 L560.3,270.6 L562.0,272.4 L563.7,275.2 L565.3,278.9 L567.0,283.5 L568.7,289.1 L570.3,295.5 L572.0,302.6 L573.7,310.4 L575.3,318.8 L577.0,327.6 L578.6,336.8 L580.3,346.2 L582.0,355.8 L583.6,365.4 L585.3,375.0 L587.0,384.4 L588.6,393.6 L590.3,402.5 L592.0,411.0 L593.6,419.1 L595.3,426.7 L597.0,433.9 L598.6,440.5 L600.3,446.6 L601.9,452.2 L603.6,457.3 L605.3,461.9 L606.9,466.1 L608.6,469.9 L610.3,473.3 L611.9,476.5 L613.6,479.3 L615.3,481.8 L616.9,483.9 L618.6,485.8 L620.2,487.4 L621.9,488.7 L623.6,489.9 L625.2,490.9 L626.9,491.7 L628.6,492.3 L630.2,492.9 L631.9,493.4 L633.6,493.8 L635.2,494.2 L636.9,494.5 L638.6,494.6 L640.2,494.7 L641.9,494.7 L643.5,494.6 L645.2,494.5 L646.9,494.3 L648.5,494.2 L650.2,494.1 L651.9,494.0 L653.5,493.9 L655.2,493.9 L656.9,493.9 L658.5,493.8 L660.2,493.8 L661.8,493.7 L663.5,493.7 L665.2,493.6 L666.8,493.5 L668.5,493.4 L670.2,493.3 L671.8,493.2 L673.5,493.2 L675.2,493.1 L676.8,493.1 L678.5,493.1 L680.2,493.2 L681.8,493.3 L683.5,493.6 L685.1,494.0 L686.8,494.6 L688.5,495.2 L690.1,495.8 L691.8,496.3 L693.5,496.7 L695.1,497.2 L696.8,497.9 L698.5,499.0 L700.1,500.3 L701.8,501.6 L703.4,502.7 L705.1,503.6 L706.8,504.1 L708.4,504.5 L710.1,505.0 L711.8,505.7 L713.4,506.7 L715.1,507.9 L716.8,509.1 L718.4,510.2 L720.1,511.0 L721.8,511.5 L723.4,511.9 L725.1,512.1 L726.7,512.3 L728.4,512.4 L730.1,512.4 L731.7,512.4 L733.4,512.3 L735.1,512.2 L736.7,512.0 L738.4,511.8 L740.1,511.6 L741.7,511.5 L743.4,511.3 L745.0,511.1 L746.7,511.0 L748.4,510.9 L750.0,510.8 L751.7,510.8 L753.4,510.7 L755.0,510.7 L756.7,510.7 L758.4,510.7 L760.0,510.7 L761.7,510.9 L763.4,511.1 L765.0,511.4 L766.7,511.9 L768.3,512.5 L770.0,513.1 L771.7,513.7 L773.3,514.3 L775.0,514.9 L776.7,515.4 L778.3,515.9 L780.0,516.3 L781.7,516.7 L783.3,517.1 L785.0,517.5 L786.6,517.8 L788.3,518.2 L790.0,518.6 L791.6,518.9 L793.3,519.3 L795.0,519.7 L796.6,520.1 L798.3,520.5 L800.0,520.9 L801.6,521.4 L803.3,521.8 L805.0,522.3 L806.6,522.7 L808.3,523.2 L809.9,523.6 L811.6,524.1 L813.3,524.5 L814.9,524.9 L816.6,525.3 L818.3,525.7 L819.9,526.1 L821.6,526.4 L823.3,526.7 L824.9,526.9 L826.6,527.1 L828.2,527.3 L829.9,527.4 L831.6,527.4 L833.2,527.4 L834.9,527.4 L836.6,527.3 L838.2,527.2 L839.9,527.1 L841.6,526.9 L843.2,526.7 L844.9,526.5 L846.6,526.3 L848.2,526.1 L849.9,525.8 L851.5,525.6 L853.2,525.3 L854.9,525.0 L856.5,524.8 L858.2,524.5 L859.9,524.3 L861.5,524.1 L863.2,523.9 L864.9,523.8 L866.5,523.6 L868.2,523.5 L869.8,523.3 L871.5,523.0 L873.2,522.6 L874.8,522.0 L876.5,521.3 L878.2,520.6 L879.8,519.8 L881.5,519.0 L883.2,518.3 L884.8,517.5 L886.5,516.8 L888.2,516.0 L889.8,515.2 L891.5,514.4 L893.1,513.7 L894.8,512.9 L896.5,512.3 L898.1,511.6 L899.8,511.1 L901.5,510.6 L903.1,510.2 L904.8,510.1 L906.5,510.1 L908.1,510.5 L909.8,511.0 L911.4,511.7 L913.1,512.4 L914.8,513.2 L916.4,513.9 L918.1,514.6 L919.8,515.3 L921.4,516.0 L923.1,516.7 L924.8,517.3 L926.4,517.8 L928.1,518.3 L929.8,518.8 L931.4,519.1 L933.1,519.5 L934.7,519.8 L936.4,520.1 L938.1,520.4 L939.7,520.7 L941.4,521.0 L943.1,521.2 L944.7,521.4 L946.4,521.5 L948.1,521.6 L949.7,521.6 L951.4,521.6 L953.0,521.5 L954.7,521.3 L956.4,521.1 L958.0,520.8 L959.7,520.5 L961.4,520.1 L963.0,519.7 L964.7,519.1 L966.4,518.5 L968.0,517.9 L969.7,517.2 L971.4,516.7 L973.0,516.4 L974.7,516.1 L976.3,516.0 L978.0,516.1 L979.7,516.3 L981.3,516.5 L983.0,516.7"/>
<path d="M151.0,510.1 L152.7,510.3 L154.3,510.5 L156.0,510.8 L157.7,510.9 L159.3,510.9 L161.0,510.9 L162.6,510.8 L164.3,510.7 L166.0,510.4 L167.6,510.1 L169.3,509.8 L171.0,509.4 L172.6,508.8 L174.3,508.1 L176.0,507.3 L177.6,506.4 L179.3,505.4 L181.0,504.3 L182.6,503.1 L184.3,502.0 L185.9,500.8 L187.6,499.7 L189.3,498.6 L190.9,497.5 L192.6,496.5 L194.3,495.4 L195.9,494.4 L197.6,493.4 L199.3,492.5 L200.9,491.6 L202.6,490.8 L204.2,490.0 L205.9,489.2 L207.6,488.6 L209.2,487.9 L210.9,487.3 L212.6,486.6 L214.2,485.9 L215.9,485.0 L217.6,484.0 L219.2,482.8 L220.9,481.5 L222.6,480.0 L224.2,478.5 L225.9,476.8 L227.5,475.0 L229.2,473.1 L230.9,471.0 L232.5,468.8 L234.2,466.6 L235.9,464.3 L237.5,462.0 L239.2,459.7 L240.9,457.3 L242.5,455.0 L244.2,452.8 L245.8,450.7 L247.5,448.8 L249.2,447.2 L250.8,445.9 L252.5,444.8 L254.2,444.0 L255.8,443.5 L257.5,443.2 L259.2,443.2 L260.8,443.5 L262.5,444.1 L264.2,445.2 L265.8,446.6 L267.5,448.5 L269.1,450.9 L270.8,453.6 L272.5,456.8 L274.1,460.2 L275.8,463.8 L277.5,467.5 L279.1,471.2 L280.8,474.9 L282.5,478.6 L284.1,482.2 L285.8,485.5 L287.4,488.6 L289.1,491.4 L290.8,493.9 L292.4,496.0 L294.1,497.9 L295.8,499.5 L297.4,500.9 L299.1,502.1 L300.8,503.2 L302.4,504.1 L304.1,504.9 L305.8,505.6 L307.4,506.3 L309.1,506.8 L310.7,507.3 L312.4,507.7 L314.1,508.1 L315.7,508.4 L317.4,508.7 L319.1,509.1 L320.7,509.4 L322.4,509.7 L324.1,510.0 L325.7,510.3 L327.4,510.6 L329.0,510.8 L330.7,511.1 L332.4,511.3 L334.0,511.6 L335.7,511.7 L337.4,511.9 L339.0,512.0 L340.7,512.1 L342.4,512.1 L344.0,512.1 L345.7,512.0 L347.4,511.9 L349.0,511.8 L350.7,511.6 L352.3,511.5 L354.0,511.3 L355.7,511.0 L357.3,510.7 L359.0,510.4 L360.7,510.0 L362.3,509.6 L364.0,509.2 L365.7,508.7 L367.3,508.2 L369.0,507.7 L370.6,507.0 L372.3,506.3 L374.0,505.6 L375.6,504.8 L377.3,504.0 L379.0,503.3 L380.6,502.5 L382.3,501.8 L384.0,501.1 L385.6,500.4 L387.3,499.7 L389.0,499.1 L390.6,498.5 L392.3,498.0 L393.9,497.7 L395.6,497.4 L397.3,497.3 L398.9,497.2 L400.6,497.2 L402.3,497.2 L403.9,497.2 L405.6,497.2 L407.3,497.2 L408.9,497.2 L410.6,497.2 L412.2,497.1 L413.9,496.9 L415.6,496.8 L417.2,496.7 L418.9,496.5 L420.6,496.3 L422.2,496.1 L423.9,495.9 L425.6,495.7 L427.2,495.4 L428.9,495.1 L430.6,494.7 L432.2,494.2 L433.9,493.7 L435.5,493.2 L437.2,492.7 L438.9,492.2 L440.5,491.6 L442.2,491.1 L443.9,490.6 L445.5,490.1 L447.2,489.6 L448.9,489.0 L450.5,488.5 L452.2,487.9 L453.8,487.4 L455.5,486.9 L457.2,486.6 L458.8,486.3 L460.5,486.2 L462.2,486.2 L463.8,486.3 L465.5,486.5 L467.2,486.6 L468.8,486.8 L470.5,487.0 L472.2,487.2 L473.8,487.4 L475.5,487.6 L477.1,487.7 L478.8,487.7 L480.5,487.5 L482.1,487.2 L483.8,486.7 L485.5,485.9 L487.1,485.0 L488.8,483.9 L490.5,482.6 L492.1,481.2 L493.8,479.8 L495.4,478.2 L497.1,476.5 L498.8,474.7 L500.4,472.7 L502.1,470.6 L503.8,468.2 L505.4,465.8 L507.1,463.1 L508.8,460.2 L510.4,457.0 L512.1,453.4 L513.8,449.4 L515.4,444.9 L517.1,439.9 L518.7,434.5 L520.4,428.6 L522.1,422.3 L523.7,415.5 L525.4,408.2 L527.1,400.6 L528.7,392.7 L530.4,384.5 L532.1,376.1 L533.7,367.6 L535.4,359.1 L537.0,350.6 L538.7,342.3 L540.4,334.3 L542.0,326.6 L543.7,319.4 L545.4,312.7 L547.0,306.7 L548.7,301.4 L550.4,296.9 L552.0,293.2 L553.7,290.5 L555.4,288.7 L557.0,287.8 L558.7,287.8 L560.3,288.7 L562.0,290.4 L563.7,293.1 L565.3,296.7 L567.0,301.1 L568.7,306.4 L570.3,312.4 L572.0,319.1 L573.7,326.5 L575.3,334.3 L577.0,342.6 L578.6,351.2 L580.3,360.1 L582.0,369.0 L583.6,378.0 L585.3,387.0 L587.0,395.7 L588.6,404.3 L590.3,412.6 L592.0,420.5 L593.6,428.0 L595.3,435.0 L597.0,441.6 L598.6,447.8 L600.3,453.4 L601.9,458.5 L603.6,463.2 L605.3,467.3 L606.9,471.1 L608.6,474.6 L610.3,477.7 L611.9,480.5 L613.6,483.1 L615.3,485.3 L616.9,487.3 L618.6,489.0 L620.2,490.4 L621.9,491.7 L623.6,492.8 L625.2,493.7 L626.9,494.5 L628.6,495.1 L630.2,495.7 L631.9,496.2 L633.6,496.6 L635.2,497.0 L636.9,497.3 L638.6,497.5 L640.2,497.7 L641.9,497.7 L643.5,497.7 L645.2,497.6 L646.9,497.5 L648.5,497.4 L650.2,497.3 L651.9,497.3 L653.5,497.3 L655.2,497.3 L656.9,497.3 L658.5,497.3 L660.2,497.3 L661.8,497.3 L663.5,497.3 L665.2,497.3 L666.8,497.3 L668.5,497.2 L670.2,497.2 L671.8,497.2 L673.5,497.2 L675.2,497.2 L676.8,497.3 L678.5,497.3 L680.2,497.4 L681.8,497.5 L683.5,497.8 L685.1,498.2 L686.8,498.6 L688.5,499.1 L690.1,499.6 L691.8,499.9 L693.5,500.1 L695.1,500.4 L696.8,500.8 L698.5,501.6 L700.1,502.4 L701.8,503.3 L703.4,504.1 L705.1,504.5 L706.8,504.7 L708.4,504.8 L710.1,504.9 L711.8,505.3 L713.4,505.9 L715.1,506.7 L716.8,507.5 L718.4,508.2 L720.1,508.8 L721.8,509.1 L723.4,509.3 L725.1,509.4 L726.7,509.4 L728.4,509.4 L730.1,509.4 L731.7,509.3 L733.4,509.2 L735.1,509.1 L736.7,509.0 L738.4,509.0 L740.1,508.9 L741.7,508.8 L743.4,508.8 L745.0,508.8 L746.7,508.9 L748.4,509.0 L750.0,509.1 L751.7,509.2 L753.4,509.4 L755.0,509.6 L756.7,509.7 L758.4,509.9 L760.0,510.2 L761.7,510.5 L763.4,510.9 L765.0,511.4 L766.7,512.0 L768.3,512.7 L770.0,513.5 L771.7,514.2 L773.3,515.0 L775.0,515.7 L776.7,516.3 L778.3,516.9 L780.0,517.5 L781.7,518.0 L783.3,518.5 L785.0,519.1 L786.6,519.6 L788.3,520.1 L790.0,520.6 L791.6,521.1 L793.3,521.6 L795.0,522.1 L796.6,522.6 L798.3,523.1 L800.0,523.6 L801.6,524.1 L803.3,524.6 L805.0,525.1 L806.6,525.5 L808.3,525.9 L809.9,526.3 L811.6,526.7 L813.3,527.0 L814.9,527.3 L816.6,527.6 L818.3,527.8 L819.9,528.0 L821.6,528.1 L823.3,528.2 L824.9,528.3 L826.6,528.3 L828.2,528.3 L829.9,528.2 L831.6,528.1 L833.2,528.0 L834.9,527.8 L836.6,527.6 L838.2,527.5 L839.9,527.3 L841.6,527.1 L843.2,527.0 L844.9,526.8 L846.6,526.7 L848.2,526.6 L849.9,526.5 L851.5,526.4 L853.2,526.3 L854.9,526.3 L856.5,526.2 L858.2,526.2 L859.9,526.3 L861.5,526.3 L863.2,526.4 L864.9,526.5 L866.5,526.6 L868.2,526.7 L869.8,526.7 L871.5,526.6 L873.2,526.4 L874.8,526.0 L876.5,525.5 L878.2,524.8 L879.8,524.2 L881.5,523.5 L883.2,522.9 L884.8,522.2 L886.5,521.4 L888.2,520.6 L889.8,519.8 L891.5,519.0 L893.1,518.2 L894.8,517.4 L896.5,516.7 L898.1,516.0 L899.8,515.3 L901.5,514.7 L903.1,514.3 L904.8,514.0 L906.5,514.0 L908.1,514.1 L909.8,514.5 L911.4,515.0 L913.1,515.5 L914.8,516.0 L916.4,516.6 L918.1,517.1 L919.8,517.6 L921.4,518.0 L923.1,518.4 L924.8,518.8 L926.4,519.1 L928.1,519.3 L929.8,519.5 L931.4,519.6 L933.1,519.6 L934.7,519.7 L936.4,519.7 L938.1,519.7 L939.7,519.7 L941.4,519.6 L943.1,519.6 L944.7,519.5 L946.4,519.4 L948.1,519.2 L949.7,519.0 L951.4,518.8 L953.0,518.6 L954.7,518.3 L956.4,518.1 L958.0,517.8 L959.7,517.5 L961.4,517.1 L963.0,516.8 L964.7,516.4 L966.4,515.9 L968.0,515.5 L969.7,515.1 L971.4,514.8 L973.0,514.7 L974.7,514.7 L976.3,514.9 L978.0,515.2 L979.7,515.6 L981.3,516.0 L983.0,516.5"/>
<path d="M151.0,508.9 L152.7,509.1 L154.3,509.4 L156.0,509.7 L157.7,510.0 L159.3,510.2 L161.0,510.3 L162.6,510.4 L164.3,510.5 L166.0,510.5 L167.6,510.4 L169.3,510.4 L171.0,510.2 L172.6,510.0 L174.3,509.6 L176.0,509.1 L177.6,508.5 L179.3,507.8 L181.0,507.0 L182.6,506.2 L184.3,505.4 L185.9,504.6 L187.6,503.8 L189.3,503.0 L190.9,502.3 L192.6,501.5 L194.3,500.8 L195.9,500.1 L197.6,499.4 L199.3,498.7 L200.9,498.0 L202.6,497.4 L204.2,496.8 L205.9,496.2 L207.6,495.7 L209.2,495.2 L210.9,494.6 L212.6,494.0 L214.2,493.3 L215.9,492.6 L217.6,491.7 L219.2,490.6 L220.9,489.5 L222.6,488.2 L224.2,486.8 L225.9,485.3 L227.5,483.7 L229.2,481.9 L230.9,480.1 L232.5,478.1 L234.2,476.1 L235.9,474.0 L237.5,471.9 L239.2,469.7 L240.9,467.4 L242.5,465.2 L244.2,463.0 L245.8,460.9 L247.5,459.0 L249.2,457.3 L250.8,455.9 L252.5,454.7 L254.2,453.8 L255.8,453.2 L257.5,452.7 L259.2,452.6 L260.8,452.8 L262.5,453.3 L264.2,454.3 L265.8,455.6 L267.5,457.3 L269.1,459.4 L270.8,462.0 L272.5,464.9 L274.1,468.1 L275.8,471.5 L277.5,475.0 L279.1,478.5 L280.8,482.1 L282.5,485.6 L284.1,489.0 L285.8,492.2 L287.4,495.1 L289.1,497.7 L290.8,500.0 L292.4,502.1 L294.1,503.9 L295.8,505.5 L297.4,506.9 L299.1,508.1 L300.8,509.2 L302.4,510.1 L304.1,510.9 L305.8,511.7 L307.4,512.3 L309.1,512.8 L310.7,513.3 L312.4,513.6 L314.1,513.9 L315.7,514.2 L317.4,514.4 L319.1,514.6 L320.7,514.8 L322.4,515.0 L324.1,515.1 L325.7,515.3 L327.4,515.4 L329.0,515.4 L330.7,515.5 L332.4,515.5 L334.0,515.5 L335.7,515.4 L337.4,515.3 L339.0,515.1 L340.7,515.0 L342.4,514.7 L344.0,514.5 L345.7,514.2 L347.4,513.9 L349.0,513.5 L350.7,513.1 L352.3,512.7 L354.0,512.3 L355.7,511.8 L357.3,511.4 L359.0,510.9 L360.7,510.4 L362.3,509.8 L364.0,509.3 L365.7,508.7 L367.3,508.1 L369.0,507.5 L370.6,506.9 L372.3,506.3 L374.0,505.6 L375.6,504.9 L377.3,504.3 L379.0,503.6 L380.6,503.1 L382.3,502.5 L384.0,501.9 L385.6,501.4 L387.3,500.9 L389.0,500.4 L390.6,500.0 L392.3,499.8 L393.9,499.6 L395.6,499.6 L397.3,499.8 L398.9,500.0 L400.6,500.3 L402.3,500.6 L403.9,500.9 L405.6,501.2 L407.3,501.5 L408.9,501.7 L410.6,501.9 L412.2,502.0 L413.9,502.1 L415.6,502.2 L417.2,502.2 L418.9,502.1 L420.6,502.1 L422.2,502.0 L423.9,501.8 L425.6,501.7 L427.2,501.5 L428.9,501.2 L430.6,500.9 L432.2,500.5 L433.9,500.0 L435.5,499.6 L437.2,499.1 L438.9,498.5 L440.5,498.0 L442.2,497.5 L443.9,496.9 L445.5,496.4 L447.2,495.9 L448.9,495.3 L450.5,494.8 L452.2,494.2 L453.8,493.6 L455.5,493.1 L457.2,492.7 L458.8,492.4 L460.5,492.1 L462.2,492.0 L463.8,491.9 L465.5,491.9 L467.2,491.9 L468.8,492.0 L470.5,492.1 L472.2,492.2 L473.8,492.4 L475.5,492.5 L477.1,492.6 L478.8,492.6 L480.5,492.5 L482.1,492.2 L483.8,491.8 L485.5,491.2 L487.1,490.4 L488.8,489.4 L490.5,488.3 L492.1,487.1 L493.8,485.9 L495.4,484.5 L497.1,483.1 L498.8,481.5 L500.4,479.8 L502.1,477.9 L503.8,475.9 L505.4,473.7 L507.1,471.3 L508.8,468.6 L510.4,465.6 L512.1,462.3 L513.8,458.5 L515.4,454.2 L517.1,449.6 L518.7,444.4 L520.4,438.8 L522.1,432.7 L523.7,426.2 L525.4,419.3 L527.1,412.0 L528.7,404.3 L530.4,396.4 L532.1,388.3 L533.7,380.1 L535.4,371.8 L537.0,363.6 L538.7,355.5 L540.4,347.7 L542.0,340.2 L543.7,333.2 L545.4,326.7 L547.0,320.9 L548.7,315.7 L550.4,311.3 L552.0,307.8 L553.7,305.2 L555.4,303.4 L557.0,302.6 L558.7,302.7 L560.3,303.6 L562.0,305.4 L563.7,308.1 L565.3,311.7 L567.0,316.1 L568.7,321.3 L570.3,327.2 L572.0,333.7 L573.7,340.9 L575.3,348.5 L577.0,356.4 L578.6,364.7 L580.3,373.2 L582.0,381.7 L583.6,390.2 L585.3,398.6 L587.0,406.9 L588.6,414.9 L590.3,422.6 L592.0,430.0 L593.6,437.0 L595.3,443.5 L597.0,449.6 L598.6,455.2 L600.3,460.4 L601.9,465.1 L603.6,469.4 L605.3,473.2 L606.9,476.7 L608.6,479.9 L610.3,482.8 L611.9,485.4 L613.6,487.7 L615.3,489.8 L616.9,491.6 L618.6,493.2 L620.2,494.6 L621.9,495.8 L623.6,496.9 L625.2,497.9 L626.9,498.7 L628.6,499.4 L630.2,500.1 L631.9,500.7 L633.6,501.2 L635.2,501.7 L636.9,502.1 L638.6,502.5 L640.2,502.7 L641.9,502.9 L643.5,503.0 L645.2,503.1 L646.9,503.1 L648.5,503.1 L650.2,503.1 L651.9,503.1 L653.5,503.1 L655.2,503.0 L656.9,502.9 L658.5,502.8 L660.2,502.7 L661.8,502.6 L663.5,502.5 L665.2,502.3 L666.8,502.2 L668.5,502.0 L670.2,501.9 L671.8,501.7 L673.5,501.6 L675.2,501.5 L676.8,501.4 L678.5,501.4 L680.2,501.3 L681.8,501.3 L683.5,501.5 L685.1,501.8 L686.8,502.1 L688.5,502.6 L690.1,503.0 L691.8,503.3 L693.5,503.6 L695.1,503.9 L696.8,504.4 L698.5,505.0 L700.1,505.8 L701.8,506.7 L703.4,507.4 L705.1,507.9 L706.8,508.3 L708.4,508.6 L710.1,508.9 L711.8,509.5 L713.4,510.3 L715.1,511.3 L716.8,512.2 L718.4,513.1 L720.1,513.8 L721.8,514.4 L723.4,514.8 L725.1,515.2 L726.7,515.5 L728.4,515.7 L730.1,515.9 L731.7,516.1 L733.4,516.2 L735.1,516.2 L736.7,516.3 L738.4,516.3 L740.1,516.3 L741.7,516.3 L743.4,516.4 L745.0,516.4 L746.7,516.5 L748.4,516.6 L750.0,516.7 L751.7,516.8 L753.4,516.9 L755.0,517.0 L756.7,517.1 L758.4,517.2 L760.0,517.3 L761.7,517.5 L763.4,517.7 L765.0,518.0 L766.7,518.4 L768.3,518.8 L770.0,519.3 L771.7,519.8 L773.3,520.2 L775.0,520.6 L776.7,520.9 L778.3,521.2 L780.0,521.5 L781.7,521.7 L783.3,521.9 L785.0,522.1 L786.6,522.3 L788.3,522.5 L790.0,522.7 L791.6,523.0 L793.3,523.2 L795.0,523.4 L796.6,523.7 L798.3,524.0 L800.0,524.3 L801.6,524.6 L803.3,524.9 L805.0,525.3 L806.6,525.6 L808.3,525.9 L809.9,526.3 L811.6,526.6 L813.3,526.9 L814.9,527.2 L816.6,527.5 L818.3,527.8 L819.9,528.0 L821.6,528.3 L823.3,528.5 L824.9,528.6 L826.6,528.8 L828.2,528.8 L829.9,528.9 L831.6,528.9 L833.2,528.9 L834.9,528.9 L836.6,528.9 L838.2,528.8 L839.9,528.7 L841.6,528.7 L843.2,528.6 L844.9,528.6 L846.6,528.5 L848.2,528.4 L849.9,528.4 L851.5,528.3 L853.2,528.3 L854.9,528.3 L856.5,528.2 L858.2,528.2 L859.9,528.2 L861.5,528.2 L863.2,528.2 L864.9,528.2 L866.5,528.2 L868.2,528.2 L869.8,528.1 L871.5,527.9 L873.2,527.6 L874.8,527.1 L876.5,526.6 L878.2,525.9 L879.8,525.2 L881.5,524.5 L883.2,523.8 L884.8,523.1 L886.5,522.3 L888.2,521.5 L889.8,520.6 L891.5,519.7 L893.1,518.9 L894.8,518.1 L896.5,517.3 L898.1,516.6 L899.8,515.9 L901.5,515.4 L903.1,514.9 L904.8,514.6 L906.5,514.6 L908.1,514.7 L909.8,515.0 L911.4,515.4 L913.1,515.9 L914.8,516.5 L916.4,517.0 L918.1,517.6 L919.8,518.2 L921.4,518.7 L923.1,519.3 L924.8,519.8 L926.4,520.3 L928.1,520.7 L929.8,521.1 L931.4,521.4 L933.1,521.8 L934.7,522.1 L936.4,522.4 L938.1,522.7 L939.7,523.0 L941.4,523.2 L943.1,523.5 L944.7,523.7 L946.4,523.8 L948.1,524.0 L949.7,524.1 L951.4,524.1 L953.0,524.2 L954.7,524.1 L956.4,524.1 L958.0,524.0 L959.7,523.9 L961.4,523.7 L963.0,523.5 L964.7,523.3 L966.4,523.0 L968.0,522.6 L969.7,522.3 L971.4,522.1 L973.0,521.9 L974.7,521.9 L976.3,521.9 L978.0,522.0 L979.7,522.2 L981.3,522.4 L983.0,522.6"/>
<path d="M151.0,511.6 L152.7,511.9 L154.3,512.2 L156.0,512.6 L157.7,512.9 L159.3,513.2 L161.0,513.4 L162.6,513.5 L164.3,513.7 L166.0,513.7 L167.6,513.8 L169.3,513.8 L171.0,513.7 L172.6,513.5 L174.3,513.1 L176.0,512.7 L177.6,512.1 L179.3,511.4 L181.0,510.5 L182.6,509.7 L184.3,508.7 L185.9,507.8 L187.6,506.9 L189.3,505.9 L190.9,505.0 L192.6,504.0 L194.3,503.0 L195.9,502.0 L197.6,501.0 L199.3,499.9 L200.9,498.9 L202.6,497.9 L204.2,497.0 L205.9,496.0 L207.6,495.1 L209.2,494.2 L210.9,493.3 L212.6,492.4 L214.2,491.5 L215.9,490.5 L217.6,489.4 L219.2,488.2 L220.9,486.9 L222.6,485.6 L224.2,484.2 L225.9,482.7 L227.5,481.2 L229.2,479.6 L230.9,478.0 L232.5,476.2 L234.2,474.4 L235.9,472.6 L237.5,470.8 L239.2,468.9 L240.9,466.9 L242.5,465.0 L244.2,463.0 L245.8,461.2 L247.5,459.6 L249.2,458.2 L250.8,457.0 L252.5,456.0 L254.2,455.3 L255.8,454.8 L257.5,454.5 L259.2,454.5 L260.8,454.8 L262.5,455.4 L264.2,456.4 L265.8,457.7 L267.5,459.5 L269.1,461.6 L270.8,464.1 L272.5,467.0 L274.1,470.1 L275.8,473.5 L277.5,476.9 L279.1,480.4 L280.8,484.0 L282.5,487.4 L284.1,490.8 L285.8,493.9 L287.4,496.8 L289.1,499.4 L290.8,501.7 L292.4,503.7 L294.1,505.5 L295.8,507.1 L297.4,508.5 L299.1,509.7 L300.8,510.7 L302.4,511.6 L304.1,512.4 L305.8,513.0 L307.4,513.5 L309.1,513.9 L310.7,514.3 L312.4,514.5 L314.1,514.6 L315.7,514.7 L317.4,514.8 L319.1,514.8 L320.7,514.8 L322.4,514.8 L324.1,514.8 L325.7,514.8 L327.4,514.7 L329.0,514.7 L330.7,514.6 L332.4,514.6 L334.0,514.5 L335.7,514.5 L337.4,514.4 L339.0,514.4 L340.7,514.3 L342.4,514.3 L344.0,514.2 L345.7,514.1 L347.4,514.1 L349.0,514.0 L350.7,513.9 L352.3,513.8 L354.0,513.8 L355.7,513.7 L357.3,513.5 L359.0,513.4 L360.7,513.2 L362.3,513.0 L364.0,512.8 L365.7,512.5 L367.3,512.2 L369.0,511.8 L370.6,511.4 L372.3,510.9 L374.0,510.4 L375.6,509.8 L377.3,509.2 L379.0,508.6 L380.6,508.1 L382.3,507.5 L384.0,506.8 L385.6,506.2 L387.3,505.6 L389.0,505.0 L390.6,504.4 L392.3,504.0 L393.9,503.7 L395.6,503.6 L397.3,503.5 L398.9,503.6 L400.6,503.7 L402.3,503.9 L403.9,504.0 L405.6,504.2 L407.3,504.4 L408.9,504.4 L410.6,504.5 L412.2,504.5 L413.9,504.4 L415.6,504.3 L417.2,504.1 L418.9,503.9 L420.6,503.7 L422.2,503.4 L423.9,503.1 L425.6,502.7 L427.2,502.3 L428.9,501.8 L430.6,501.3 L432.2,500.7 L433.9,500.0 L435.5,499.3 L437.2,498.6 L438.9,497.9 L440.5,497.2 L442.2,496.5 L443.9,495.8 L445.5,495.2 L447.2,494.5 L448.9,493.9 L450.5,493.3 L452.2,492.7 L453.8,492.2 L455.5,491.7 L457.2,491.4 L458.8,491.2 L460.5,491.1 L462.2,491.1 L463.8,491.2 L465.5,491.4 L467.2,491.7 L468.8,492.0 L470.5,492.4 L472.2,492.8 L473.8,493.2 L475.5,493.6 L477.1,493.9 L478.8,494.2 L480.5,494.3 L482.1,494.3 L483.8,494.1 L485.5,493.6 L487.1,492.9 L488.8,492.1 L490.5,491.1 L492.1,490.0 L493.8,488.8 L495.4,487.5 L497.1,486.1 L498.8,484.6 L500.4,483.0 L502.1,481.2 L503.8,479.2 L505.4,477.1 L507.1,474.8 L508.8,472.2 L510.4,469.4 L512.1,466.2 L513.8,462.6 L515.4,458.7 L517.1,454.4 L518.7,449.6 L520.4,444.5 L522.1,439.0 L523.7,433.0 L525.4,426.8 L527.1,420.2 L528.7,413.3 L530.4,406.2 L532.1,398.9 L533.7,391.5 L535.4,384.1 L537.0,376.7 L538.7,369.5 L540.4,362.6 L542.0,355.9 L543.7,349.6 L545.4,343.9 L547.0,338.7 L548.7,334.1 L550.4,330.3 L552.0,327.2 L553.7,324.9 L555.4,323.4 L557.0,322.7 L558.7,322.9 L560.3,323.8 L562.0,325.5 L563.7,328.0 L565.3,331.3 L567.0,335.4 L568.7,340.1 L570.3,345.5 L572.0,351.5 L573.7,357.9 L575.3,364.8 L577.0,372.1 L578.6,379.6 L580.3,387.3 L582.0,395.0 L583.6,402.8 L585.3,410.5 L587.0,418.1 L588.6,425.5 L590.3,432.6 L592.0,439.4 L593.6,445.9 L595.3,452.0 L597.0,457.7 L598.6,463.0 L600.3,467.9 L601.9,472.3 L603.6,476.4 L605.3,480.0 L606.9,483.3 L608.6,486.2 L610.3,488.8 L611.9,491.2 L613.6,493.3 L615.3,495.1 L616.9,496.7 L618.6,498.0 L620.2,499.1 L621.9,500.0 L623.6,500.8 L625.2,501.4 L626.9,501.9 L628.6,502.4 L630.2,502.7 L631.9,503.0 L633.6,503.3 L635.2,503.5 L636.9,503.7 L638.6,503.9 L640.2,504.0 L641.9,504.0 L643.5,504.0 L645.2,504.0 L646.9,503.9 L648.5,503.9 L650.2,503.8 L651.9,503.8 L653.5,503.7 L655.2,503.7 L656.9,503.6 L658.5,503.5 L660.2,503.4 L661.8,503.3 L663.5,503.2 L665.2,503.1 L666.8,502.9 L668.5,502.8 L670.2,502.7 L671.8,502.5 L673.5,502.4 L675.2,502.3 L676.8,502.2 L678.5,502.2 L680.2,502.1 L681.8,502.2 L683.5,502.3 L685.1,502.6 L686.8,503.0 L688.5,503.4 L690.1,503.9 L691.8,504.3 L693.5,504.6 L695.1,505.0 L696.8,505.6 L698.5,506.3 L700.1,507.2 L701.8,508.1 L703.4,508.9 L705.1,509.5 L706.8,510.0 L708.4,510.4 L710.1,510.9 L711.8,511.6 L713.4,512.4 L715.1,513.3 L716.8,514.3 L718.4,515.1 L720.1,515.8 L721.8,516.2 L723.4,516.5 L725.1,516.8 L726.7,516.9 L728.4,517.0 L730.1,516.9 L731.7,516.8 L733.4,516.6 L735.1,516.3 L736.7,516.0 L738.4,515.7 L740.1,515.4 L741.7,515.1 L743.4,514.9 L745.0,514.6 L746.7,514.4 L748.4,514.3 L750.0,514.1 L751.7,514.1 L753.4,514.0 L755.0,514.0 L756.7,514.0 L758.4,514.0 L760.0,514.1 L761.7,514.3 L763.4,514.6 L765.0,515.0 L766.7,515.6 L768.3,516.2 L770.0,516.8 L771.7,517.5 L773.3,518.2 L775.0,518.8 L776.7,519.4 L778.3,519.9 L780.0,520.4 L781.7,520.9 L783.3,521.3 L785.0,521.8 L786.6,522.2 L788.3,522.6 L790.0,523.1 L791.6,523.5 L793.3,523.9 L795.0,524.3 L796.6,524.7 L798.3,525.2 L800.0,525.6 L801.6,526.1 L803.3,526.5 L805.0,527.0 L806.6,527.4 L808.3,527.9 L809.9,528.4 L811.6,528.8 L813.3,529.3 L814.9,529.7 L816.6,530.1 L818.3,530.5 L819.9,530.9 L821.6,531.3 L823.3,531.6 L824.9,531.9 L826.6,532.1 L828.2,532.3 L829.9,532.4 L831.6,532.5 L833.2,532.5 L834.9,532.5 L836.6,532.4 L838.2,532.3 L839.9,532.1 L841.6,532.0 L843.2,531.7 L844.9,531.5 L846.6,531.2 L848.2,531.0 L849.9,530.7 L851.5,530.4 L853.2,530.1 L854.9,529.8 L856.5,529.5 L858.2,529.2 L859.9,528.9 L861.5,528.6 L863.2,528.4 L864.9,528.2 L866.5,528.0 L868.2,527.8 L869.8,527.6 L871.5,527.3 L873.2,526.9 L874.8,526.5 L876.5,526.0 L878.2,525.4 L879.8,524.9 L881.5,524.3 L883.2,523.8 L884.8,523.2 L886.5,522.6 L888.2,522.1 L889.8,521.5 L891.5,520.9 L893.1,520.3 L894.8,519.7 L896.5,519.2 L898.1,518.7 L899.8,518.2 L901.5,517.9 L903.1,517.6 L904.8,517.4 L906.5,517.5 L908.1,517.6 L909.8,518.0 L911.4,518.4 L913.1,518.9 L914.8,519.4 L916.4,519.9 L918.1,520.4 L919.8,520.8 L921.4,521.3 L923.1,521.7 L924.8,522.1 L926.4,522.4 L928.1,522.7 L929.8,523.0 L931.4,523.2 L933.1,523.4 L934.7,523.6 L936.4,523.8 L938.1,524.0 L939.7,524.1 L941.4,524.3 L943.1,524.4 L944.7,524.5 L946.4,524.5 L948.1,524.6 L949.7,524.5 L951.4,524.5 L953.0,524.3 L954.7,524.2 L956.4,524.0 L958.0,523.7 L959.7,523.4 L961.4,523.0 L963.0,522.6 L964.7,522.1 L966.4,521.6 L968.0,521.0 L969.7,520.5 L971.4,520.0 L973.0,519.6 L974.7,519.3 L976.3,519.2 L978.0,519.1 L979.7,519.0 L981.3,519.1 L983.0,519.2"/>
<path d="M151.0,515.4 L152.7,515.9 L154.3,516.5 L156.0,517.1 L157.7,517.7 L159.3,518.1 L161.0,518.6 L162.6,518.9 L164.3,519.3 L166.0,519.5 L167.6,519.7 L169.3,519.9 L171.0,520.0 L172.6,519.9 L174.3,519.7 L176.0,519.4 L177.6,518.9 L179.3,518.3 L181.0,517.6 L182.6,516.8 L184.3,515.9 L185.9,515.1 L187.6,514.2 L189.3,513.4 L190.9,512.5 L192.6,511.6 L194.3,510.7 L195.9,509.7 L197.6,508.8 L199.3,507.8 L200.9,506.9 L202.6,505.9 L204.2,505.0 L205.9,504.1 L207.6,503.2 L209.2,502.3 L210.9,501.4 L212.6,500.5 L214.2,499.6 L215.9,498.6 L217.6,497.6 L219.2,496.6 L220.9,495.5 L222.6,494.3 L224.2,493.1 L225.9,491.9 L227.5,490.6 L229.2,489.3 L230.9,487.9 L232.5,486.5 L234.2,485.0 L235.9,483.4 L237.5,481.8 L239.2,480.1 L240.9,478.3 L242.5,476.5 L244.2,474.6 L245.8,472.8 L247.5,471.2 L249.2,469.7 L250.8,468.5 L252.5,467.5 L254.2,466.6 L255.8,466.0 L257.5,465.5 L259.2,465.3 L260.8,465.4 L262.5,465.9 L264.2,466.7 L265.8,467.8 L267.5,469.2 L269.1,471.0 L270.8,473.2 L272.5,475.6 L274.1,478.4 L275.8,481.3 L277.5,484.3 L279.1,487.4 L280.8,490.5 L282.5,493.5 L284.1,496.4 L285.8,499.1 L287.4,501.5 L289.1,503.6 L290.8,505.5 L292.4,507.1 L294.1,508.6 L295.8,509.8 L297.4,510.9 L299.1,511.9 L300.8,512.7 L302.4,513.4 L304.1,514.0 L305.8,514.5 L307.4,514.9 L309.1,515.2 L310.7,515.4 L312.4,515.5 L314.1,515.5 L315.7,515.6 L317.4,515.6 L319.1,515.6 L320.7,515.6 L322.4,515.6 L324.1,515.6 L325.7,515.6 L327.4,515.6 L329.0,515.5 L330.7,515.5 L332.4,515.5 L334.0,515.5 L335.7,515.5 L337.4,515.5 L339.0,515.5 L340.7,515.5 L342.4,515.6 L344.0,515.6 L345.7,515.6 L347.4,515.6 L349.0,515.7 L350.7,515.7 L352.3,515.7 L354.0,515.7 L355.7,515.7 L357.3,515.7 L359.0,515.6 L360.7,515.5 L362.3,515.5 L364.0,515.3 L365.7,515.2 L367.3,515.0 L369.0,514.8 L370.6,514.6 L372.3,514.3 L374.0,514.0 L375.6,513.7 L377.3,513.4 L379.0,513.0 L380.6,512.7 L382.3,512.3 L384.0,511.9 L385.6,511.4 L387.3,511.0 L389.0,510.5 L390.6,510.2 L392.3,509.9 L393.9,509.8 L395.6,509.8 L397.3,509.9 L398.9,510.1 L400.6,510.4 L402.3,510.8 L403.9,511.1 L405.6,511.4 L407.3,511.7 L408.9,511.9 L410.6,512.0 L412.2,512.1 L413.9,512.1 L415.6,512.0 L417.2,511.8 L418.9,511.7 L420.6,511.4 L422.2,511.2 L423.9,510.8 L425.6,510.5 L427.2,510.1 L428.9,509.7 L430.6,509.2 L432.2,508.7 L433.9,508.1 L435.5,507.5 L437.2,506.9 L438.9,506.3 L440.5,505.7 L442.2,505.1 L443.9,504.5 L445.5,504.0 L447.2,503.5 L448.9,503.0 L450.5,502.5 L452.2,502.0 L453.8,501.6 L455.5,501.2 L457.2,500.9 L458.8,500.7 L460.5,500.5 L462.2,500.5 L463.8,500.4 L465.5,500.5 L467.2,500.6 L468.8,500.8 L470.5,501.0 L472.2,501.2 L473.8,501.5 L475.5,501.8 L477.1,502.0 L478.8,502.1 L480.5,502.2 L482.1,502.0 L483.8,501.7 L485.5,501.2 L487.1,500.5 L488.8,499.6 L490.5,498.6 L492.1,497.5 L493.8,496.3 L495.4,495.1 L497.1,493.8 L498.8,492.4 L500.4,490.9 L502.1,489.3 L503.8,487.5 L505.4,485.5 L507.1,483.4 L508.8,481.0 L510.4,478.4 L512.1,475.5 L513.8,472.2 L515.4,468.6 L517.1,464.7 L518.7,460.4 L520.4,455.7 L522.1,450.7 L523.7,445.4 L525.4,439.7 L527.1,433.7 L528.7,427.5 L530.4,421.0 L532.1,414.4 L533.7,407.7 L535.4,401.0 L537.0,394.3 L538.7,387.8 L540.4,381.4 L542.0,375.4 L543.7,369.7 L545.4,364.5 L547.0,359.8 L548.7,355.6 L550.4,352.2 L552.0,349.4 L553.7,347.3 L555.4,346.0 L557.0,345.5 L558.7,345.8 L560.3,346.7 L562.0,348.4 L563.7,350.9 L565.3,354.1 L567.0,357.9 L568.7,362.4 L570.3,367.5 L572.0,373.1 L573.7,379.1 L575.3,385.5 L577.0,392.1 L578.6,399.0 L580.3,406.0 L582.0,413.1 L583.6,420.1 L585.3,427.0 L587.0,433.9 L588.6,440.5 L590.3,446.8 L592.0,452.9 L593.6,458.6 L595.3,464.0 L597.0,469.0 L598.6,473.6 L600.3,477.9 L601.9,481.8 L603.6,485.3 L605.3,488.4 L606.9,491.3 L608.6,493.8 L610.3,496.1 L611.9,498.1 L613.6,499.8 L615.3,501.4 L616.9,502.7 L618.6,503.9 L620.2,504.9 L621.9,505.7 L623.6,506.4 L625.2,507.0 L626.9,507.6 L628.6,508.0 L630.2,508.5 L631.9,508.9 L633.6,509.2 L635.2,509.6 L636.9,509.9 L638.6,510.2 L640.2,510.5 L641.9,510.8 L643.5,511.0 L645.2,511.2 L646.9,511.3 L648.5,511.5 L650.2,511.6 L651.9,511.7 L653.5,511.7 L655.2,511.8 L656.9,511.7 L658.5,511.7 L660.2,511.7 L661.8,511.6 L663.5,511.6 L665.2,511.5 L666.8,511.4 L668.5,511.3 L670.2,511.2 L671.8,511.2 L673.5,511.1 L675.2,511.0 L676.8,511.0 L678.5,511.0 L680.2,511.1 L681.8,511.1 L683.5,511.3 L685.1,511.6 L686.8,511.9 L688.5,512.4 L690.1,512.8 L691.8,513.2 L693.5,513.6 L695.1,514.0 L696.8,514.5 L698.5,515.0 L700.1,515.6 L701.8,516.3 L703.4,516.8 L705.1,517.3 L706.8,517.7 L708.4,518.1 L710.1,518.5 L711.8,519.1 L713.4,519.8 L715.1,520.5 L716.8,521.2 L718.4,521.8 L720.1,522.3 L721.8,522.6 L723.4,522.8 L725.1,523.0 L726.7,523.0 L728.4,523.0 L730.1,522.8 L731.7,522.6 L733.4,522.2 L735.1,521.8 L736.7,521.4 L738.4,520.9 L740.1,520.5 L741.7,520.0 L743.4,519.6 L745.0,519.2 L746.7,518.8 L748.4,518.5 L750.0,518.3 L751.7,518.1 L753.4,517.9 L755.0,517.7 L756.7,517.6 L758.4,517.5 L760.0,517.5 L761.7,517.5 L763.4,517.6 L765.0,517.9 L766.7,518.2 L768.3,518.6 L770.0,519.1 L771.7,519.5 L773.3,520.0 L775.0,520.5 L776.7,520.9 L778.3,521.2 L780.0,521.5 L781.7,521.8 L783.3,522.1 L785.0,522.4 L786.6,522.7 L788.3,523.0 L790.0,523.3 L791.6,523.6 L793.3,524.0 L795.0,524.3 L796.6,524.6 L798.3,525.0 L800.0,525.4 L801.6,525.8 L803.3,526.2 L805.0,526.6 L806.6,527.0 L808.3,527.5 L809.9,527.9 L811.6,528.4 L813.3,528.8 L814.9,529.3 L816.6,529.7 L818.3,530.1 L819.9,530.5 L821.6,530.9 L823.3,531.2 L824.9,531.5 L826.6,531.8 L828.2,532.0 L829.9,532.1 L831.6,532.2 L833.2,532.2 L834.9,532.2 L836.6,532.2 L838.2,532.1 L839.9,532.0 L841.6,531.9 L843.2,531.7 L844.9,531.6 L846.6,531.4 L848.2,531.2 L849.9,531.0 L851.5,530.8 L853.2,530.6 L854.9,530.4 L856.5,530.2 L858.2,530.1 L859.9,529.9 L861.5,529.8 L863.2,529.7 L864.9,529.6 L866.5,529.6 L868.2,529.5 L869.8,529.5 L871.5,529.3 L873.2,529.2 L874.8,528.9 L876.5,528.7 L878.2,528.3 L879.8,528.0 L881.5,527.7 L883.2,527.4 L884.8,527.1 L886.5,526.8 L888.2,526.4 L889.8,526.0 L891.5,525.6 L893.1,525.3 L894.8,524.9 L896.5,524.5 L898.1,524.2 L899.8,524.0 L901.5,523.8 L903.1,523.6 L904.8,523.6 L906.5,523.8 L908.1,524.0 L909.8,524.3 L911.4,524.7 L913.1,525.2 L914.8,525.7 L916.4,526.2 L918.1,526.6 L919.8,527.1 L921.4,527.6 L923.1,528.0 L924.8,528.4 L926.4,528.7 L928.1,529.0 L929.8,529.3 L931.4,529.5 L933.1,529.8 L934.7,530.0 L936.4,530.2 L938.1,530.3 L939.7,530.5 L941.4,530.6 L943.1,530.6 L944.7,530.7 L946.4,530.7 L948.1,530.6 L949.7,530.6 L951.4,530.4 L953.0,530.2 L954.7,530.0 L956.4,529.8 L958.0,529.4 L959.7,529.1 L961.4,528.7 L963.0,528.2 L964.7,527.7 L966.4,527.2 L968.0,526.6 L969.7,526.0 L971.4,525.5 L973.0,525.0 L974.7,524.6 L976.3,524.3 L978.0,524.0 L979.7,523.7 L981.3,523.5 L983.0,523.4"/>
<path d="M151.0,516.6 L152.7,517.0 L154.3,517.4 L156.0,517.9 L157.7,518.2 L159.3,518.6 L161.0,518.8 L162.6,519.0 L164.3,519.1 L166.0,519.2 L167.6,519.2 L169.3,519.1 L171.0,519.0 L172.6,518.8 L174.3,518.4 L176.0,518.0 L177.6,517.3 L179.3,516.6 L181.0,515.9 L182.6,515.1 L184.3,514.2 L185.9,513.4 L187.6,512.7 L189.3,512.0 L190.9,511.3 L192.6,510.6 L194.3,509.9 L195.9,509.3 L197.6,508.6 L199.3,508.0 L200.9,507.4 L202.6,506.8 L204.2,506.2 L205.9,505.6 L207.6,505.0 L209.2,504.4 L210.9,503.8 L212.6,503.2 L214.2,502.5 L215.9,501.8 L217.6,501.0 L219.2,500.1 L220.9,499.2 L222.6,498.3 L224.2,497.3 L225.9,496.2 L227.5,495.0 L229.2,493.8 L230.9,492.6 L232.5,491.2 L234.2,489.8 L235.9,488.4 L237.5,486.8 L239.2,485.1 L240.9,483.4 L242.5,481.6 L244.2,479.7 L245.8,477.9 L247.5,476.3 L249.2,474.8 L250.8,473.6 L252.5,472.6 L254.2,471.7 L255.8,471.1 L257.5,470.7 L259.2,470.6 L260.8,470.7 L262.5,471.3 L264.2,472.2 L265.8,473.3 L267.5,474.8 L269.1,476.6 L270.8,478.7 L272.5,481.1 L274.1,483.7 L275.8,486.5 L277.5,489.5 L279.1,492.5 L280.8,495.5 L282.5,498.4 L284.1,501.2 L285.8,503.7 L287.4,505.9 L289.1,507.9 L290.8,509.6 L292.4,511.2 L294.1,512.6 L295.8,513.8 L297.4,514.9 L299.1,515.9 L300.8,516.8 L302.4,517.7 L304.1,518.4 L305.8,519.1 L307.4,519.6 L309.1,520.1 L310.7,520.6 L312.4,520.9 L314.1,521.3 L315.7,521.6 L317.4,522.0 L319.1,522.3 L320.7,522.5 L322.4,522.8 L324.1,523.0 L325.7,523.2 L327.4,523.4 L329.0,523.5 L330.7,523.6 L332.4,523.7 L334.0,523.7 L335.7,523.7 L337.4,523.6 L339.0,523.5 L340.7,523.4 L342.4,523.2 L344.0,523.0 L345.7,522.7 L347.4,522.4 L349.0,522.1 L350.7,521.8 L352.3,521.4 L354.0,521.0 L355.7,520.6 L357.3,520.2 L359.0,519.8 L360.7,519.4 L362.3,518.9 L364.0,518.5 L365.7,518.1 L367.3,517.6 L369.0,517.2 L370.6,516.8 L372.3,516.4 L374.0,516.0 L375.6,515.7 L377.3,515.3 L379.0,515.0 L380.6,514.6 L382.3,514.3 L384.0,513.9 L385.6,513.4 L387.3,513.0 L389.0,512.6 L390.6,512.2 L392.3,511.9 L393.9,511.8 L395.6,511.8 L397.3,511.9 L398.9,512.2 L400.6,512.5 L402.3,512.8 L403.9,513.1 L405.6,513.4 L407.3,513.6 L408.9,513.8 L410.6,513.8 L412.2,513.8 L413.9,513.7 L415.6,513.5 L417.2,513.3 L418.9,513.1 L420.6,512.8 L422.2,512.6 L423.9,512.2 L425.6,511.9 L427.2,511.6 L428.9,511.3 L430.6,510.9 L432.2,510.5 L433.9,510.1 L435.5,509.7 L437.2,509.3 L438.9,508.8 L440.5,508.4 L442.2,507.9 L443.9,507.5 L445.5,507.1 L447.2,506.7 L448.9,506.3 L450.5,505.9 L452.2,505.5 L453.8,505.1 L455.5,504.7 L457.2,504.3 L458.8,503.9 L460.5,503.5 L462.2,503.2 L463.8,502.9 L465.5,502.7 L467.2,502.5 L468.8,502.4 L470.5,502.3 L472.2,502.4 L473.8,502.4 L475.5,502.5 L477.1,502.5 L478.8,502.6 L480.5,502.5 L482.1,502.4 L483.8,502.1 L485.5,501.7 L487.1,501.2 L488.8,500.5 L490.5,499.7 L492.1,498.9 L493.8,498.1 L495.4,497.2 L497.1,496.4 L498.8,495.5 L500.4,494.5 L502.1,493.4 L503.8,492.1 L505.4,490.7 L507.1,489.0 L508.8,487.1 L510.4,485.0 L512.1,482.5 L513.8,479.8 L515.4,476.7 L517.1,473.3 L518.7,469.5 L520.4,465.4 L522.1,460.9 L523.7,456.1 L525.4,451.0 L527.1,445.6 L528.7,440.0 L530.4,434.2 L532.1,428.2 L533.7,422.2 L535.4,416.1 L537.0,410.1 L538.7,404.2 L540.4,398.4 L542.0,393.0 L543.7,387.8 L545.4,383.1 L547.0,378.8 L548.7,375.1 L550.4,372.0 L552.0,369.5 L553.7,367.7 L555.4,366.5 L557.0,366.2 L558.7,366.5 L560.3,367.5 L562.0,369.2 L563.7,371.6 L565.3,374.7 L567.0,378.4 L568.7,382.6 L570.3,387.4 L572.0,392.6 L573.7,398.2 L575.3,404.1 L577.0,410.2 L578.6,416.5 L580.3,422.8 L582.0,429.2 L583.6,435.5 L585.3,441.7 L587.0,447.8 L588.6,453.6 L590.3,459.2 L592.0,464.4 L593.6,469.4 L595.3,474.1 L597.0,478.4 L598.6,482.3 L600.3,486.0 L601.9,489.3 L603.6,492.2 L605.3,494.9 L606.9,497.4 L608.6,499.5 L610.3,501.5 L611.9,503.2 L613.6,504.7 L615.3,506.1 L616.9,507.3 L618.6,508.4 L620.2,509.3 L621.9,510.2 L623.6,510.9 L625.2,511.6 L626.9,512.2 L628.6,512.7 L630.2,513.2 L631.9,513.6 L633.6,514.0 L635.2,514.4 L636.9,514.8 L638.6,515.1 L640.2,515.3 L641.9,515.6 L643.5,515.8 L645.2,515.9 L646.9,516.0 L648.5,516.0 L650.2,516.0 L651.9,515.9 L653.5,515.8 L655.2,515.6 L656.9,515.4 L658.5,515.1 L660.2,514.9 L661.8,514.6 L663.5,514.4 L665.2,514.2 L666.8,513.9 L668.5,513.7 L670.2,513.5 L671.8,513.3 L673.5,513.2 L675.2,513.1 L676.8,513.0 L678.5,512.9 L680.2,512.8 L681.8,512.8 L683.5,512.8 L685.1,513.0 L686.8,513.2 L688.5,513.4 L690.1,513.7 L691.8,514.0 L693.5,514.2 L695.1,514.4 L696.8,514.6 L698.5,514.9 L700.1,515.2 L701.8,515.5 L703.4,515.7 L705.1,516.0 L706.8,516.2 L708.4,516.5 L710.1,516.9 L711.8,517.3 L713.4,517.9 L715.1,518.6 L716.8,519.2 L718.4,519.8 L720.1,520.4 L721.8,520.9 L723.4,521.3 L725.1,521.7 L726.7,522.1 L728.4,522.4 L730.1,522.6 L731.7,522.8 L733.4,522.8 L735.1,522.9 L736.7,522.8 L738.4,522.8 L740.1,522.8 L741.7,522.7 L743.4,522.7 L745.0,522.7 L746.7,522.7 L748.4,522.7 L750.0,522.8 L751.7,522.8 L753.4,522.8 L755.0,522.9 L756.7,522.9 L758.4,522.9 L760.0,522.9 L761.7,523.0 L763.4,523.1 L765.0,523.3 L766.7,523.6 L768.3,523.9 L770.0,524.2 L771.7,524.5 L773.3,524.9 L775.0,525.2 L776.7,525.5 L778.3,525.7 L780.0,525.9 L781.7,526.1 L783.3,526.3 L785.0,526.5 L786.6,526.8 L788.3,527.0 L790.0,527.3 L791.6,527.6 L793.3,527.9 L795.0,528.2 L796.6,528.6 L798.3,528.9 L800.0,529.3 L801.6,529.7 L803.3,530.1 L805.0,530.5 L806.6,530.9 L808.3,531.2 L809.9,531.6 L811.6,532.0 L813.3,532.3 L814.9,532.7 L816.6,533.0 L818.3,533.3 L819.9,533.6 L821.6,533.8 L823.3,534.0 L824.9,534.2 L826.6,534.3 L828.2,534.4 L829.9,534.5 L831.6,534.5 L833.2,534.5 L834.9,534.5 L836.6,534.5 L838.2,534.4 L839.9,534.4 L841.6,534.4 L843.2,534.3 L844.9,534.3 L846.6,534.3 L848.2,534.3 L849.9,534.3 L851.5,534.3 L853.2,534.3 L854.9,534.3 L856.5,534.3 L858.2,534.3 L859.9,534.3 L861.5,534.3 L863.2,534.3 L864.9,534.3 L866.5,534.3 L868.2,534.2 L869.8,534.0 L871.5,533.8 L873.2,533.5 L874.8,533.1 L876.5,532.7 L878.2,532.2 L879.8,531.6 L881.5,531.1 L883.2,530.5 L884.8,529.9 L886.5,529.2 L888.2,528.5 L889.8,527.8 L891.5,527.1 L893.1,526.3 L894.8,525.7 L896.5,525.0 L898.1,524.4 L899.8,523.9 L901.5,523.5 L903.1,523.2 L904.8,523.0 L906.5,522.9 L908.1,523.0 L909.8,523.1 L911.4,523.4 L913.1,523.7 L914.8,524.1 L916.4,524.5 L918.1,524.9 L919.8,525.3 L921.4,525.7 L923.1,526.1 L924.8,526.5 L926.4,526.8 L928.1,527.1 L929.8,527.4 L931.4,527.6 L933.1,527.8 L934.7,528.0 L936.4,528.2 L938.1,528.4 L939.7,528.5 L941.4,528.7 L943.1,528.8 L944.7,528.8 L946.4,528.9 L948.1,528.9 L949.7,528.9 L951.4,528.9 L953.0,528.9 L954.7,528.9 L956.4,528.8 L958.0,528.8 L959.7,528.7 L961.4,528.6 L963.0,528.4 L964.7,528.3 L966.4,528.1 L968.0,528.0 L969.7,527.8 L971.4,527.6 L973.0,527.5 L974.7,527.4 L976.3,527.3 L978.0,527.2 L979.7,527.1 L981.3,527.1 L983.0,527.1"/>
<path d="M151.0,509.8 L152.7,509.9 L154.3,510.0 L156.0,510.1 L157.7,510.1 L159.3,510.1 L161.0,510.0 L162.6,509.8 L164.3,509.6 L166.0,509.4 L167.6,509.1 L169.3,508.8 L171.0,508.5 L172.6,508.1 L174.3,507.6 L176.0,507.0 L177.6,506.3 L179.3,505.5 L181.0,504.7 L182.6,503.8 L184.3,502.8 L185.9,501.9 L187.6,500.9 L189.3,500.0 L190.9,499.0 L192.6,498.0 L194.3,497.0 L195.9,495.9 L197.6,494.8 L199.3,493.8 L200.9,492.7 L202.6,491.6 L204.2,490.6 L205.9,489.6 L207.6,488.6 L209.2,487.7 L210.9,486.7 L212.6,485.7 L214.2,484.7 L215.9,483.5 L217.6,482.2 L219.2,480.8 L220.9,479.2 L222.6,477.5 L224.2,475.7 L225.9,473.8 L227.5,471.9 L229.2,469.8 L230.9,467.6 L232.5,465.3 L234.2,463.0 L235.9,460.6 L237.5,458.2 L239.2,455.8 L240.9,453.4 L242.5,451.0 L244.2,448.7 L245.8,446.6 L247.5,444.7 L249.2,443.0 L250.8,441.5 L252.5,440.3 L254.2,439.4 L255.8,438.7 L257.5,438.2 L259.2,438.0 L260.8,438.1 L262.5,438.5 L264.2,439.4 L265.8,440.7 L267.5,442.4 L269.1,444.6 L270.8,447.3 L272.5,450.4 L274.1,453.8 L275.8,457.4 L277.5,461.1 L279.1,464.9 L280.8,468.7 L282.5,472.6 L284.1,476.3 L285.8,479.8 L287.4,483.1 L289.1,486.1 L290.8,488.8 L292.4,491.2 L294.1,493.3 L295.8,495.0 L297.4,496.6 L299.1,498.0 L300.8,499.2 L302.4,500.2 L304.1,501.2 L305.8,502.0 L307.4,502.7 L309.1,503.4 L310.7,503.9 L312.4,504.4 L314.1,504.9 L315.7,505.3 L317.4,505.6 L319.1,506.0 L320.7,506.4 L322.4,506.8 L324.1,507.1 L325.7,507.5 L327.4,507.9 L329.0,508.3 L330.7,508.6 L332.4,509.0 L334.0,509.3 L335.7,509.5 L337.4,509.7 L339.0,509.9 L340.7,510.0 L342.4,510.0 L344.0,510.0 L345.7,510.0 L347.4,509.9 L349.0,509.7 L350.7,509.5 L352.3,509.3 L354.0,509.0 L355.7,508.6 L357.3,508.3 L359.0,507.8 L360.7,507.4 L362.3,506.9 L364.0,506.4 L365.7,505.8 L367.3,505.3 L369.0,504.6 L370.6,503.9 L372.3,503.2 L374.0,502.4 L375.6,501.7 L377.3,500.9 L379.0,500.2 L380.6,499.5 L382.3,498.9 L384.0,498.3 L385.6,497.7 L387.3,497.1 L389.0,496.6 L390.6,496.1 L392.3,495.8 L393.9,495.5 L395.6,495.3 L397.3,495.3 L398.9,495.2 L400.6,495.3 L402.3,495.3 L403.9,495.3 L405.6,495.4 L407.3,495.4 L408.9,495.4 L410.6,495.4 L412.2,495.3 L413.9,495.3 L415.6,495.3 L417.2,495.2 L418.9,495.2 L420.6,495.1 L422.2,495.1 L423.9,495.0 L425.6,495.0 L427.2,494.9 L428.9,494.8 L430.6,494.5 L432.2,494.2 L433.9,493.9 L435.5,493.5 L437.2,493.0 L438.9,492.5 L440.5,492.0 L442.2,491.4 L443.9,490.8 L445.5,490.1 L447.2,489.4 L448.9,488.6 L450.5,487.7 L452.2,486.8 L453.8,485.8 L455.5,484.9 L457.2,484.1 L458.8,483.4 L460.5,482.9 L462.2,482.5 L463.8,482.1 L465.5,481.9 L467.2,481.7 L468.8,481.5 L470.5,481.4 L472.2,481.4 L473.8,481.4 L475.5,481.3 L477.1,481.3 L478.8,481.3 L480.5,481.1 L482.1,480.8 L483.8,480.3 L485.5,479.6 L487.1,478.8 L488.8,477.8 L490.5,476.6 L492.1,475.3 L493.8,473.9 L495.4,472.3 L497.1,470.6 L498.8,468.6 L500.4,466.4 L502.1,464.0 L503.8,461.3 L505.4,458.4 L507.1,455.3 L508.8,451.9 L510.4,448.1 L512.1,443.8 L513.8,439.0 L515.4,433.6 L517.1,427.7 L518.7,421.2 L520.4,414.2 L522.1,406.6 L523.7,398.4 L525.4,389.8 L527.1,380.6 L528.7,371.1 L530.4,361.2 L532.1,351.1 L533.7,340.7 L535.4,330.4 L537.0,320.0 L538.7,309.8 L540.4,300.0 L542.0,290.5 L543.7,281.5 L545.4,273.3 L547.0,265.8 L548.7,259.1 L550.4,253.5 L552.0,248.9 L553.7,245.4 L555.4,243.0 L557.0,241.7 L558.7,241.6 L560.3,242.5 L562.0,244.4 L563.7,247.5 L565.3,251.6 L567.0,256.9 L568.7,263.1 L570.3,270.3 L572.0,278.4 L573.7,287.2 L575.3,296.6 L577.0,306.6 L578.6,316.9 L580.3,327.5 L582.0,338.3 L583.6,349.1 L585.3,359.9 L587.0,370.4 L588.6,380.8 L590.3,390.7 L592.0,400.3 L593.6,409.4 L595.3,418.0 L597.0,426.0 L598.6,433.5 L600.3,440.5 L601.9,446.9 L603.6,452.7 L605.3,458.0 L606.9,462.8 L608.6,467.2 L610.3,471.2 L611.9,474.8 L613.6,478.1 L615.3,481.0 L616.9,483.5 L618.6,485.7 L620.2,487.5 L621.9,489.0 L623.6,490.3 L625.2,491.4 L626.9,492.2 L628.6,492.9 L630.2,493.5 L631.9,493.9 L633.6,494.3 L635.2,494.6 L636.9,494.8 L638.6,494.9 L640.2,494.9 L641.9,494.9 L643.5,494.8 L645.2,494.6 L646.9,494.5 L648.5,494.3 L650.2,494.2 L651.9,494.2 L653.5,494.2 L655.2,494.2 L656.9,494.2 L658.5,494.2 L660.2,494.2 L661.8,494.1 L663.5,494.0 L665.2,493.9 L666.8,493.8 L668.5,493.6 L670.2,493.4 L671.8,493.1 L673.5,492.9 L675.2,492.7 L676.8,492.5 L678.5,492.3 L680.2,492.2 L681.8,492.1 L683.5,492.2 L685.1,492.4 L686.8,492.9 L688.5,493.3 L690.1,493.8 L691.8,494.2 L693.5,494.4 L695.1,494.8 L696.8,495.5 L698.5,496.5 L700.1,497.8 L701.8,499.1 L703.4,500.3 L705.1,501.2 L706.8,501.8 L708.4,502.2 L710.1,502.7 L711.8,503.4 L713.4,504.5 L715.1,505.7 L716.8,506.9 L718.4,508.0 L720.1,508.9 L721.8,509.4 L723.4,509.8 L725.1,510.0 L726.7,510.2 L728.4,510.2 L730.1,510.2 L731.7,510.2 L733.4,510.1 L735.1,509.9 L736.7,509.8 L738.4,509.6 L740.1,509.4 L741.7,509.3 L743.4,509.2 L745.0,509.1 L746.7,509.0 L748.4,509.0 L750.0,508.9 L751.7,508.9 L753.4,509.0 L755.0,509.0 L756.7,509.0 L758.4,509.1 L760.0,509.2 L761.7,509.4 L763.4,509.6 L765.0,510.0 L766.7,510.5 L768.3,511.1 L770.0,511.8 L771.7,512.5 L773.3,513.1 L775.0,513.7 L776.7,514.3 L778.3,514.8 L780.0,515.3 L781.7,515.8 L783.3,516.3 L785.0,516.8 L786.6,517.3 L788.3,517.8 L790.0,518.4 L791.6,519.0 L793.3,519.5 L795.0,520.1 L796.6,520.8 L798.3,521.4 L800.0,522.0 L801.6,522.7 L803.3,523.3 L805.0,523.9 L806.6,524.5 L808.3,525.0 L809.9,525.5 L811.6,526.0 L813.3,526.4 L814.9,526.8 L816.6,527.1 L818.3,527.3 L819.9,527.5 L821.6,527.6 L823.3,527.6 L824.9,527.6 L826.6,527.5 L828.2,527.4 L829.9,527.2 L831.6,527.0 L833.2,526.8 L834.9,526.6 L836.6,526.3 L838.2,526.1 L839.9,525.8 L841.6,525.6 L843.2,525.4 L844.9,525.2 L846.6,525.0 L848.2,524.9 L849.9,524.7 L851.5,524.6 L853.2,524.5 L854.9,524.5 L856.5,524.4 L858.2,524.4 L859.9,524.3 L861.5,524.3 L863.2,524.3 L864.9,524.2 L866.5,524.2 L868.2,524.1 L869.8,523.9 L871.5,523.6 L873.2,523.2 L874.8,522.6 L876.5,521.8 L878.2,520.9 L879.8,520.0 L881.5,519.1 L883.2,518.2 L884.8,517.4 L886.5,516.5 L888.2,515.6 L889.8,514.8 L891.5,514.0 L893.1,513.2 L894.8,512.5 L896.5,511.9 L898.1,511.4 L899.8,511.0 L901.5,510.7 L903.1,510.5 L904.8,510.6 L906.5,510.8 L908.1,511.4 L909.8,512.1 L911.4,513.0 L913.1,513.9 L914.8,514.7 L916.4,515.5 L918.1,516.3 L919.8,516.9 L921.4,517.5 L923.1,518.0 L924.8,518.4 L926.4,518.6 L928.1,518.8 L929.8,518.9 L931.4,518.8 L933.1,518.7 L934.7,518.6 L936.4,518.5 L938.1,518.4 L939.7,518.2 L941.4,518.1 L943.1,518.0 L944.7,517.8 L946.4,517.8 L948.1,517.7 L949.7,517.6 L951.4,517.6 L953.0,517.5 L954.7,517.5 L956.4,517.5 L958.0,517.5 L959.7,517.5 L961.4,517.5 L963.0,517.4 L964.7,517.2 L966.4,517.0 L968.0,516.8 L969.7,516.6 L971.4,516.5 L973.0,516.4 L974.7,516.5 L976.3,516.8 L978.0,517.1 L979.7,517.5 L981.3,517.8 L983.0,518.1"/>
<path d="M151.0,514.0 L152.7,514.0 L154.3,514.2 L156.0,514.3 L157.7,514.5 L159.3,514.5 L161.0,514.5 L162.6,514.5 L164.3,514.5 L166.0,514.4 L167.6,514.4 L169.3,514.3 L171.0,514.2 L172.6,514.1 L174.3,513.8 L176.0,513.5 L177.6,513.1 L179.3,512.5 L181.0,512.0 L182.6,511.3 L184.3,510.7 L185.9,510.1 L187.6,509.4 L189.3,508.8 L190.9,508.2 L192.6,507.5 L194.3,506.8 L195.9,506.1 L197.6,505.4 L199.3,504.7 L200.9,504.0 L202.6,503.2 L204.2,502.5 L205.9,501.8 L207.6,501.1 L209.2,500.4 L210.9,499.7 L212.6,499.0 L214.2,498.2 L215.9,497.4 L217.6,496.5 L219.2,495.5 L220.9,494.5 L222.6,493.4 L224.2,492.2 L225.9,491.0 L227.5,489.7 L229.2,488.3 L230.9,486.8 L232.5,485.2 L234.2,483.6 L235.9,481.9 L237.5,480.1 L239.2,478.2 L240.9,476.2 L242.5,474.1 L244.2,472.1 L245.8,470.1 L247.5,468.2 L249.2,466.5 L250.8,465.0 L252.5,463.7 L254.2,462.6 L255.8,461.7 L257.5,461.0 L259.2,460.5 L260.8,460.4 L262.5,460.7 L264.2,461.3 L265.8,462.2 L267.5,463.5 L269.1,465.3 L270.8,467.4 L272.5,469.8 L274.1,472.6 L275.8,475.6 L277.5,478.7 L279.1,481.9 L280.8,485.1 L282.5,488.3 L284.1,491.4 L285.8,494.2 L287.4,496.8 L289.1,499.2 L290.8,501.3 L292.4,503.1 L294.1,504.7 L295.8,506.2 L297.4,507.4 L299.1,508.5 L300.8,509.5 L302.4,510.4 L304.1,511.1 L305.8,511.8 L307.4,512.4 L309.1,512.9 L310.7,513.3 L312.4,513.6 L314.1,513.9 L315.7,514.2 L317.4,514.4 L319.1,514.7 L320.7,514.9 L322.4,515.2 L324.1,515.4 L325.7,515.6 L327.4,515.7 L329.0,515.9 L330.7,516.0 L332.4,516.1 L334.0,516.2 L335.7,516.2 L337.4,516.2 L339.0,516.1 L340.7,516.0 L342.4,515.9 L344.0,515.7 L345.7,515.4 L347.4,515.2 L349.0,514.9 L350.7,514.5 L352.3,514.2 L354.0,513.8 L355.7,513.4 L357.3,513.1 L359.0,512.7 L360.7,512.3 L362.3,511.9 L364.0,511.6 L365.7,511.2 L367.3,510.9 L369.0,510.6 L370.6,510.2 L372.3,509.9 L374.0,509.6 L375.6,509.4 L377.3,509.1 L379.0,508.9 L380.6,508.7 L382.3,508.5 L384.0,508.2 L385.6,508.0 L387.3,507.7 L389.0,507.5 L390.6,507.3 L392.3,507.2 L393.9,507.2 L395.6,507.3 L397.3,507.5 L398.9,507.7 L400.6,508.0 L402.3,508.3 L403.9,508.5 L405.6,508.8 L407.3,508.9 L408.9,509.1 L410.6,509.1 L412.2,509.1 L413.9,509.0 L415.6,508.9 L417.2,508.8 L418.9,508.6 L420.6,508.5 L422.2,508.3 L423.9,508.2 L425.6,508.0 L427.2,507.8 L428.9,507.5 L430.6,507.3 L432.2,507.0 L433.9,506.6 L435.5,506.2 L437.2,505.7 L438.9,505.2 L440.5,504.7 L442.2,504.2 L443.9,503.6 L445.5,503.0 L447.2,502.4 L448.9,501.8 L450.5,501.0 L452.2,500.3 L453.8,499.5 L455.5,498.8 L457.2,498.1 L458.8,497.4 L460.5,496.9 L462.2,496.4 L463.8,496.0 L465.5,495.7 L467.2,495.4 L468.8,495.3 L470.5,495.2 L472.2,495.3 L473.8,495.3 L475.5,495.5 L477.1,495.6 L478.8,495.7 L480.5,495.8 L482.1,495.7 L483.8,495.5 L485.5,495.1 L487.1,494.5 L488.8,493.7 L490.5,492.8 L492.1,491.8 L493.8,490.7 L495.4,489.5 L497.1,488.1 L498.8,486.6 L500.4,484.9 L502.1,483.0 L503.8,480.9 L505.4,478.5 L507.1,475.9 L508.8,473.0 L510.4,469.8 L512.1,466.2 L513.8,462.1 L515.4,457.7 L517.1,452.8 L518.7,447.5 L520.4,441.7 L522.1,435.5 L523.7,428.9 L525.4,421.8 L527.1,414.4 L528.7,406.7 L530.4,398.7 L532.1,390.5 L533.7,382.2 L535.4,373.8 L537.0,365.5 L538.7,357.2 L540.4,349.2 L542.0,341.6 L543.7,334.3 L545.4,327.6 L547.0,321.6 L548.7,316.3 L550.4,311.7 L552.0,308.0 L553.7,305.3 L555.4,303.5 L557.0,302.6 L558.7,302.7 L560.3,303.7 L562.0,305.6 L563.7,308.4 L565.3,312.2 L567.0,316.8 L568.7,322.2 L570.3,328.4 L572.0,335.3 L573.7,342.7 L575.3,350.6 L577.0,358.9 L578.6,367.5 L580.3,376.2 L582.0,385.1 L583.6,393.9 L585.3,402.6 L587.0,411.2 L588.6,419.5 L590.3,427.5 L592.0,435.1 L593.6,442.4 L595.3,449.2 L597.0,455.5 L598.6,461.5 L600.3,466.9 L601.9,471.9 L603.6,476.4 L605.3,480.5 L606.9,484.1 L608.6,487.4 L610.3,490.4 L611.9,493.0 L613.6,495.3 L615.3,497.3 L616.9,499.0 L618.6,500.5 L620.2,501.6 L621.9,502.6 L623.6,503.4 L625.2,504.1 L626.9,504.6 L628.6,505.0 L630.2,505.4 L631.9,505.7 L633.6,505.9 L635.2,506.2 L636.9,506.4 L638.6,506.6 L640.2,506.8 L641.9,507.0 L643.5,507.2 L645.2,507.3 L646.9,507.5 L648.5,507.6 L650.2,507.8 L651.9,507.9 L653.5,508.0 L655.2,508.2 L656.9,508.3 L658.5,508.3 L660.2,508.4 L661.8,508.4 L663.5,508.5 L665.2,508.4 L666.8,508.4 L668.5,508.3 L670.2,508.3 L671.8,508.2 L673.5,508.1 L675.2,508.0 L676.8,507.9 L678.5,507.9 L680.2,507.8 L681.8,507.8 L683.5,507.9 L685.1,508.1 L686.8,508.4 L688.5,508.8 L690.1,509.2 L691.8,509.5 L693.5,509.8 L695.1,510.1 L696.8,510.5 L698.5,511.0 L700.1,511.6 L701.8,512.3 L703.4,512.8 L705.1,513.2 L706.8,513.5 L708.4,513.7 L710.1,514.0 L711.8,514.4 L713.4,514.9 L715.1,515.6 L716.8,516.2 L718.4,516.7 L720.1,517.1 L721.8,517.3 L723.4,517.4 L725.1,517.4 L726.7,517.4 L728.4,517.3 L730.1,517.1 L731.7,516.8 L733.4,516.5 L735.1,516.2 L736.7,515.9 L738.4,515.6 L740.1,515.3 L741.7,515.1 L743.4,514.9 L745.0,514.7 L746.7,514.7 L748.4,514.6 L750.0,514.7 L751.7,514.7 L753.4,514.8 L755.0,515.0 L756.7,515.1 L758.4,515.2 L760.0,515.5 L761.7,515.7 L763.4,516.1 L765.0,516.5 L766.7,517.0 L768.3,517.6 L770.0,518.3 L771.7,518.9 L773.3,519.6 L775.0,520.2 L776.7,520.7 L778.3,521.2 L780.0,521.7 L781.7,522.2 L783.3,522.6 L785.0,523.1 L786.6,523.6 L788.3,524.1 L790.0,524.6 L791.6,525.1 L793.3,525.6 L795.0,526.1 L796.6,526.6 L798.3,527.1 L800.0,527.6 L801.6,528.1 L803.3,528.6 L805.0,529.0 L806.6,529.5 L808.3,529.8 L809.9,530.2 L811.6,530.5 L813.3,530.7 L814.9,530.9 L816.6,531.1 L818.3,531.2 L819.9,531.2 L821.6,531.3 L823.3,531.3 L824.9,531.2 L826.6,531.1 L828.2,531.0 L829.9,530.9 L831.6,530.7 L833.2,530.6 L834.9,530.4 L836.6,530.3 L838.2,530.2 L839.9,530.1 L841.6,530.1 L843.2,530.1 L844.9,530.1 L846.6,530.1 L848.2,530.2 L849.9,530.3 L851.5,530.5 L853.2,530.6 L854.9,530.8 L856.5,531.0 L858.2,531.1 L859.9,531.3 L861.5,531.4 L863.2,531.5 L864.9,531.6 L866.5,531.7 L868.2,531.7 L869.8,531.6 L871.5,531.4 L873.2,531.1 L874.8,530.6 L876.5,530.1 L878.2,529.4 L879.8,528.8 L881.5,528.1 L883.2,527.4 L884.8,526.7 L886.5,526.0 L888.2,525.3 L889.8,524.5 L891.5,523.8 L893.1,523.1 L894.8,522.5 L896.5,521.9 L898.1,521.4 L899.8,521.0 L901.5,520.6 L903.1,520.4 L904.8,520.3 L906.5,520.3 L908.1,520.5 L909.8,520.9 L911.4,521.2 L913.1,521.7 L914.8,522.1 L916.4,522.4 L918.1,522.8 L919.8,523.0 L921.4,523.3 L923.1,523.5 L924.8,523.6 L926.4,523.6 L928.1,523.5 L929.8,523.5 L931.4,523.3 L933.1,523.2 L934.7,523.1 L936.4,523.0 L938.1,522.9 L939.7,522.8 L941.4,522.8 L943.1,522.8 L944.7,522.8 L946.4,522.9 L948.1,523.0 L949.7,523.1 L951.4,523.3 L953.0,523.5 L954.7,523.6 L956.4,523.9 L958.0,524.1 L959.7,524.2 L961.4,524.4 L963.0,524.5 L964.7,524.6 L966.4,524.6 L968.0,524.5 L969.7,524.5 L971.4,524.4 L973.0,524.3 L974.7,524.3 L976.3,524.3 L978.0,524.3 L979.7,524.3 L981.3,524.2 L983.0,524.2"/>
<path d="M151.0,513.3 L152.7,513.5 L154.3,513.8 L156.0,514.1 L157.7,514.2 L159.3,514.3 L161.0,514.3 L162.6,514.2 L164.3,514.0 L166.0,513.8 L167.6,513.6 L169.3,513.3 L171.0,512.9 L172.6,512.5 L174.3,512.0 L176.0,511.4 L177.6,510.7 L179.3,509.9 L181.0,509.1 L182.6,508.2 L184.3,507.4 L185.9,506.5 L187.6,505.7 L189.3,504.9 L190.9,504.1 L192.6,503.2 L194.3,502.4 L195.9,501.5 L197.6,500.6 L199.3,499.7 L200.9,498.7 L202.6,497.8 L204.2,496.8 L205.9,495.8 L207.6,494.8 L209.2,493.8 L210.9,492.7 L212.6,491.6 L214.2,490.4 L215.9,489.1 L217.6,487.8 L219.2,486.3 L220.9,484.7 L222.6,483.0 L224.2,481.3 L225.9,479.5 L227.5,477.7 L229.2,475.9 L230.9,474.0 L232.5,472.1 L234.2,470.2 L235.9,468.3 L237.5,466.3 L239.2,464.4 L240.9,462.5 L242.5,460.6 L244.2,458.8 L245.8,457.1 L247.5,455.6 L249.2,454.4 L250.8,453.3 L252.5,452.5 L254.2,451.9 L255.8,451.5 L257.5,451.2 L259.2,451.2 L260.8,451.5 L262.5,452.1 L264.2,453.0 L265.8,454.2 L267.5,455.8 L269.1,457.8 L270.8,460.2 L272.5,462.9 L274.1,466.0 L275.8,469.2 L277.5,472.5 L279.1,475.9 L280.8,479.3 L282.5,482.7 L284.1,485.9 L285.8,489.1 L287.4,491.9 L289.1,494.5 L290.8,496.9 L292.4,499.0 L294.1,500.9 L295.8,502.5 L297.4,504.0 L299.1,505.3 L300.8,506.5 L302.4,507.5 L304.1,508.4 L305.8,509.2 L307.4,509.9 L309.1,510.5 L310.7,510.9 L312.4,511.3 L314.1,511.6 L315.7,511.8 L317.4,512.0 L319.1,512.2 L320.7,512.3 L322.4,512.5 L324.1,512.6 L325.7,512.7 L327.4,512.8 L329.0,512.9 L330.7,513.0 L332.4,513.1 L334.0,513.3 L335.7,513.4 L337.4,513.5 L339.0,513.6 L340.7,513.7 L342.4,513.8 L344.0,513.9 L345.7,514.0 L347.4,514.0 L349.0,514.1 L350.7,514.1 L352.3,514.1 L354.0,514.1 L355.7,514.0 L357.3,513.9 L359.0,513.7 L360.7,513.5 L362.3,513.2 L364.0,512.8 L365.7,512.4 L367.3,511.9 L369.0,511.3 L370.6,510.7 L372.3,510.0 L374.0,509.3 L375.6,508.5 L377.3,507.6 L379.0,506.8 L380.6,506.1 L382.3,505.3 L384.0,504.5 L385.6,503.7 L387.3,502.9 L389.0,502.2 L390.6,501.6 L392.3,501.1 L393.9,500.7 L395.6,500.4 L397.3,500.3 L398.9,500.3 L400.6,500.4 L402.3,500.4 L403.9,500.5 L405.6,500.7 L407.3,500.7 L408.9,500.8 L410.6,500.8 L412.2,500.7 L413.9,500.7 L415.6,500.6 L417.2,500.4 L418.9,500.3 L420.6,500.1 L422.2,499.9 L423.9,499.7 L425.6,499.5 L427.2,499.3 L428.9,499.0 L430.6,498.7 L432.2,498.3 L433.9,497.9 L435.5,497.5 L437.2,497.1 L438.9,496.6 L440.5,496.2 L442.2,495.8 L443.9,495.4 L445.5,495.1 L447.2,494.7 L448.9,494.2 L450.5,493.8 L452.2,493.3 L453.8,492.9 L455.5,492.4 L457.2,492.1 L458.8,491.8 L460.5,491.6 L462.2,491.5 L463.8,491.4 L465.5,491.4 L467.2,491.4 L468.8,491.4 L470.5,491.5 L472.2,491.5 L473.8,491.6 L475.5,491.7 L477.1,491.7 L478.8,491.7 L480.5,491.6 L482.1,491.4 L483.8,491.0 L485.5,490.4 L487.1,489.7 L488.8,488.9 L490.5,488.0 L492.1,487.0 L493.8,486.0 L495.4,484.9 L497.1,483.8 L498.8,482.5 L500.4,481.2 L502.1,479.7 L503.8,478.1 L505.4,476.4 L507.1,474.4 L508.8,472.3 L510.4,469.8 L512.1,467.1 L513.8,464.0 L515.4,460.5 L517.1,456.7 L518.7,452.5 L520.4,448.0 L522.1,443.1 L523.7,437.9 L525.4,432.4 L527.1,426.6 L528.7,420.7 L530.4,414.6 L532.1,408.3 L533.7,402.1 L535.4,395.8 L537.0,389.6 L538.7,383.6 L540.4,377.8 L542.0,372.3 L543.7,367.2 L545.4,362.4 L547.0,358.2 L548.7,354.5 L550.4,351.4 L552.0,348.9 L553.7,347.1 L555.4,346.0 L557.0,345.5 L558.7,345.7 L560.3,346.6 L562.0,348.2 L563.7,350.4 L565.3,353.2 L567.0,356.6 L568.7,360.7 L570.3,365.2 L572.0,370.2 L573.7,375.6 L575.3,381.4 L577.0,387.4 L578.6,393.7 L580.3,400.0 L582.0,406.5 L583.6,412.9 L585.3,419.3 L587.0,425.6 L588.6,431.8 L590.3,437.7 L592.0,443.5 L593.6,448.9 L595.3,454.1 L597.0,458.9 L598.6,463.5 L600.3,467.7 L601.9,471.6 L603.6,475.2 L605.3,478.5 L606.9,481.5 L608.6,484.2 L610.3,486.8 L611.9,489.1 L613.6,491.1 L615.3,493.0 L616.9,494.6 L618.6,496.0 L620.2,497.2 L621.9,498.2 L623.6,499.0 L625.2,499.7 L626.9,500.2 L628.6,500.6 L630.2,500.9 L631.9,501.2 L633.6,501.4 L635.2,501.5 L636.9,501.6 L638.6,501.6 L640.2,501.6 L641.9,501.6 L643.5,501.5 L645.2,501.4 L646.9,501.3 L648.5,501.2 L650.2,501.2 L651.9,501.2 L653.5,501.2 L655.2,501.3 L656.9,501.4 L658.5,501.4 L660.2,501.5 L661.8,501.6 L663.5,501.7 L665.2,501.7 L666.8,501.7 L668.5,501.7 L670.2,501.7 L671.8,501.6 L673.5,501.5 L675.2,501.3 L676.8,501.2 L678.5,501.0 L680.2,500.8 L681.8,500.7 L683.5,500.6 L685.1,500.7 L686.8,500.9 L688.5,501.1 L690.1,501.3 L691.8,501.4 L693.5,501.5 L695.1,501.7 L696.8,502.1 L698.5,502.7 L700.1,503.6 L701.8,504.5 L703.4,505.4 L705.1,506.1 L706.8,506.7 L708.4,507.2 L710.1,507.8 L711.8,508.7 L713.4,509.8 L715.1,511.1 L716.8,512.4 L718.4,513.6 L720.1,514.6 L721.8,515.4 L723.4,516.0 L725.1,516.5 L726.7,517.0 L728.4,517.3 L730.1,517.5 L731.7,517.5 L733.4,517.5 L735.1,517.4 L736.7,517.3 L738.4,517.1 L740.1,516.8 L741.7,516.6 L743.4,516.3 L745.0,516.0 L746.7,515.8 L748.4,515.6 L750.0,515.4 L751.7,515.3 L753.4,515.2 L755.0,515.1 L756.7,515.0 L758.4,515.0 L760.0,515.0 L761.7,515.1 L763.4,515.3 L765.0,515.7 L766.7,516.1 L768.3,516.6 L770.0,517.2 L771.7,517.8 L773.3,518.4 L775.0,518.9 L776.7,519.4 L778.3,519.8 L780.0,520.1 L781.7,520.4 L783.3,520.7 L785.0,521.0 L786.6,521.3 L788.3,521.5 L790.0,521.8 L791.6,522.0 L793.3,522.3 L795.0,522.5 L796.6,522.8 L798.3,523.1 L800.0,523.4 L801.6,523.8 L803.3,524.1 L805.0,524.5 L806.6,524.9 L808.3,525.3 L809.9,525.8 L811.6,526.2 L813.3,526.6 L814.9,527.0 L816.6,527.5 L818.3,527.8 L819.9,528.2 L821.6,528.5 L823.3,528.8 L824.9,529.1 L826.6,529.3 L828.2,529.4 L829.9,529.5 L831.6,529.5 L833.2,529.4 L834.9,529.3 L836.6,529.2 L838.2,529.0 L839.9,528.8 L841.6,528.6 L843.2,528.3 L844.9,528.1 L846.6,527.8 L848.2,527.5 L849.9,527.2 L851.5,527.0 L853.2,526.7 L854.9,526.5 L856.5,526.3 L858.2,526.1 L859.9,526.0 L861.5,525.8 L863.2,525.7 L864.9,525.7 L866.5,525.6 L868.2,525.5 L869.8,525.4 L871.5,525.2 L873.2,524.9 L874.8,524.4 L876.5,523.9 L878.2,523.3 L879.8,522.7 L881.5,522.0 L883.2,521.4 L884.8,520.7 L886.5,520.1 L888.2,519.4 L889.8,518.7 L891.5,518.0 L893.1,517.3 L894.8,516.7 L896.5,516.2 L898.1,515.7 L899.8,515.3 L901.5,515.0 L903.1,514.9 L904.8,514.9 L906.5,515.2 L908.1,515.7 L909.8,516.3 L911.4,517.1 L913.1,517.9 L914.8,518.8 L916.4,519.7 L918.1,520.5 L919.8,521.3 L921.4,522.0 L923.1,522.7 L924.8,523.3 L926.4,523.9 L928.1,524.3 L929.8,524.6 L931.4,524.8 L933.1,525.0 L934.7,525.1 L936.4,525.2 L938.1,525.2 L939.7,525.2 L941.4,525.1 L943.1,525.0 L944.7,524.9 L946.4,524.7 L948.1,524.5 L949.7,524.3 L951.4,524.1 L953.0,523.9 L954.7,523.6 L956.4,523.4 L958.0,523.1 L959.7,522.9 L961.4,522.6 L963.0,522.4 L964.7,522.1 L966.4,521.8 L968.0,521.4 L969.7,521.2 L971.4,521.0 L973.0,520.9 L974.7,520.8 L976.3,520.9 L978.0,521.1 L979.7,521.3 L981.3,521.6 L983.0,521.8"/>
<path d="M151.0,517.8 L152.7,518.1 L154.3,518.4 L156.0,518.7 L157.7,518.9 L159.3,519.0 L161.0,519.0 L162.6,518.8 L164.3,518.6 L166.0,518.4 L167.6,518.0 L169.3,517.7 L171.0,517.2 L172.6,516.7 L174.3,516.1 L176.0,515.4 L177.6,514.6 L179.3,513.7 L181.0,512.8 L182.6,511.9 L184.3,511.0 L185.9,510.2 L187.6,509.5 L189.3,508.8 L190.9,508.1 L192.6,507.5 L194.3,506.9 L195.9,506.3 L197.6,505.7 L199.3,505.1 L200.9,504.5 L202.6,503.9 L204.2,503.3 L205.9,502.6 L207.6,502.0 L209.2,501.3 L210.9,500.6 L212.6,499.9 L214.2,499.1 L215.9,498.2 L217.6,497.3 L219.2,496.4 L220.9,495.3 L222.6,494.3 L224.2,493.2 L225.9,492.1 L227.5,490.9 L229.2,489.8 L230.9,488.6 L232.5,487.4 L234.2,486.1 L235.9,484.9 L237.5,483.6 L239.2,482.2 L240.9,480.8 L242.5,479.4 L244.2,477.9 L245.8,476.5 L247.5,475.2 L249.2,474.1 L250.8,473.1 L252.5,472.4 L254.2,471.8 L255.8,471.3 L257.5,470.9 L259.2,470.8 L260.8,471.0 L262.5,471.4 L264.2,472.1 L265.8,473.0 L267.5,474.2 L269.1,475.7 L270.8,477.5 L272.5,479.6 L274.1,482.0 L275.8,484.5 L277.5,487.1 L279.1,489.8 L280.8,492.6 L282.5,495.3 L284.1,497.9 L285.8,500.3 L287.4,502.6 L289.1,504.5 L290.8,506.3 L292.4,508.0 L294.1,509.5 L295.8,510.9 L297.4,512.2 L299.1,513.4 L300.8,514.5 L302.4,515.5 L304.1,516.5 L305.8,517.3 L307.4,518.1 L309.1,518.7 L310.7,519.2 L312.4,519.7 L314.1,520.1 L315.7,520.4 L317.4,520.6 L319.1,520.8 L320.7,521.0 L322.4,521.1 L324.1,521.2 L325.7,521.2 L327.4,521.1 L329.0,521.1 L330.7,521.0 L332.4,520.9 L334.0,520.7 L335.7,520.6 L337.4,520.5 L339.0,520.3 L340.7,520.2 L342.4,520.0 L344.0,519.9 L345.7,519.7 L347.4,519.5 L349.0,519.4 L350.7,519.2 L352.3,519.0 L354.0,518.8 L355.7,518.6 L357.3,518.3 L359.0,518.0 L360.7,517.7 L362.3,517.4 L364.0,517.0 L365.7,516.5 L367.3,516.1 L369.0,515.5 L370.6,515.0 L372.3,514.4 L374.0,513.7 L375.6,513.1 L377.3,512.4 L379.0,511.8 L380.6,511.1 L382.3,510.4 L384.0,509.7 L385.6,509.0 L387.3,508.3 L389.0,507.6 L390.6,507.1 L392.3,506.7 L393.9,506.5 L395.6,506.4 L397.3,506.5 L398.9,506.8 L400.6,507.2 L402.3,507.6 L403.9,508.1 L405.6,508.5 L407.3,509.0 L408.9,509.4 L410.6,509.7 L412.2,509.9 L413.9,510.1 L415.6,510.2 L417.2,510.3 L418.9,510.3 L420.6,510.2 L422.2,510.2 L423.9,510.0 L425.6,509.9 L427.2,509.7 L428.9,509.4 L430.6,509.1 L432.2,508.8 L433.9,508.4 L435.5,507.9 L437.2,507.5 L438.9,507.0 L440.5,506.6 L442.2,506.1 L443.9,505.7 L445.5,505.3 L447.2,504.9 L448.9,504.5 L450.5,504.1 L452.2,503.7 L453.8,503.3 L455.5,502.9 L457.2,502.6 L458.8,502.3 L460.5,502.0 L462.2,501.8 L463.8,501.6 L465.5,501.4 L467.2,501.3 L468.8,501.2 L470.5,501.2 L472.2,501.2 L473.8,501.3 L475.5,501.3 L477.1,501.3 L478.8,501.2 L480.5,501.0 L482.1,500.7 L483.8,500.2 L485.5,499.5 L487.1,498.7 L488.8,497.8 L490.5,496.7 L492.1,495.5 L493.8,494.2 L495.4,492.9 L497.1,491.5 L498.8,490.0 L500.4,488.3 L502.1,486.4 L503.8,484.4 L505.4,482.1 L507.1,479.5 L508.8,476.6 L510.4,473.3 L512.1,469.7 L513.8,465.5 L515.4,460.9 L517.1,455.8 L518.7,450.2 L520.4,444.0 L522.1,437.3 L523.7,430.1 L525.4,422.4 L527.1,414.2 L528.7,405.7 L530.4,396.8 L532.1,387.6 L533.7,378.3 L535.4,368.9 L537.0,359.4 L538.7,350.1 L540.4,341.1 L542.0,332.4 L543.7,324.2 L545.4,316.5 L547.0,309.6 L548.7,303.5 L550.4,298.3 L552.0,294.1 L553.7,290.9 L555.4,288.8 L557.0,287.8 L558.7,287.9 L560.3,288.9 L562.0,291.0 L563.7,294.2 L565.3,298.4 L567.0,303.6 L568.7,309.7 L570.3,316.6 L572.0,324.4 L573.7,332.7 L575.3,341.6 L577.0,350.9 L578.6,360.4 L580.3,370.1 L582.0,379.8 L583.6,389.5 L585.3,399.0 L587.0,408.2 L588.6,417.1 L590.3,425.6 L592.0,433.7 L593.6,441.3 L595.3,448.4 L597.0,455.0 L598.6,461.0 L600.3,466.6 L601.9,471.7 L603.6,476.3 L605.3,480.5 L606.9,484.3 L608.6,487.7 L610.3,490.8 L611.9,493.6 L613.6,496.1 L615.3,498.3 L616.9,500.2 L618.6,501.9 L620.2,503.3 L621.9,504.5 L623.6,505.6 L625.2,506.4 L626.9,507.1 L628.6,507.7 L630.2,508.2 L631.9,508.6 L633.6,508.9 L635.2,509.1 L636.9,509.3 L638.6,509.4 L640.2,509.6 L641.9,509.6 L643.5,509.7 L645.2,509.7 L646.9,509.8 L648.5,509.8 L650.2,509.9 L651.9,509.9 L653.5,510.0 L655.2,510.1 L656.9,510.3 L658.5,510.4 L660.2,510.5 L661.8,510.7 L663.5,510.9 L665.2,511.1 L666.8,511.3 L668.5,511.6 L670.2,511.8 L671.8,512.0 L673.5,512.2 L675.2,512.3 L676.8,512.5 L678.5,512.6 L680.2,512.8 L681.8,512.9 L683.5,513.0 L685.1,513.3 L686.8,513.5 L688.5,513.8 L690.1,514.2 L691.8,514.5 L693.5,514.7 L695.1,514.9 L696.8,515.2 L698.5,515.6 L700.1,516.1 L701.8,516.6 L703.4,517.0 L705.1,517.5 L706.8,517.9 L708.4,518.4 L710.1,519.0 L711.8,519.7 L713.4,520.5 L715.1,521.5 L716.8,522.4 L718.4,523.2 L720.1,523.9 L721.8,524.5 L723.4,525.0 L725.1,525.4 L726.7,525.7 L728.4,525.8 L730.1,525.8 L731.7,525.7 L733.4,525.4 L735.1,525.0 L736.7,524.6 L738.4,524.1 L740.1,523.5 L741.7,522.9 L743.4,522.3 L745.0,521.7 L746.7,521.2 L748.4,520.7 L750.0,520.3 L751.7,519.9 L753.4,519.5 L755.0,519.2 L756.7,519.0 L758.4,518.8 L760.0,518.7 L761.7,518.7 L763.4,518.9 L765.0,519.1 L766.7,519.5 L768.3,520.1 L770.0,520.6 L771.7,521.3 L773.3,521.9 L775.0,522.5 L776.7,523.1 L778.3,523.6 L780.0,524.1 L781.7,524.5 L783.3,524.9 L785.0,525.3 L786.6,525.7 L788.3,526.0 L790.0,526.3 L791.6,526.6 L793.3,526.8 L795.0,527.1 L796.6,527.3 L798.3,527.5 L800.0,527.7 L801.6,527.9 L803.3,528.1 L805.0,528.3 L806.6,528.6 L808.3,528.8 L809.9,529.0 L811.6,529.3 L813.3,529.5 L814.9,529.8 L816.6,530.0 L818.3,530.3 L819.9,530.6 L821.6,530.8 L823.3,531.0 L824.9,531.2 L826.6,531.3 L828.2,531.4 L829.9,531.5 L831.6,531.5 L833.2,531.4 L834.9,531.4 L836.6,531.2 L838.2,531.1 L839.9,530.9 L841.6,530.7 L843.2,530.5 L844.9,530.3 L846.6,530.0 L848.2,529.8 L849.9,529.6 L851.5,529.4 L853.2,529.2 L854.9,529.1 L856.5,529.0 L858.2,528.9 L859.9,528.9 L861.5,528.9 L863.2,528.9 L864.9,529.0 L866.5,529.1 L868.2,529.3 L869.8,529.4 L871.5,529.5 L873.2,529.5 L874.8,529.5 L876.5,529.4 L878.2,529.3 L879.8,529.2 L881.5,529.1 L883.2,528.9 L884.8,528.7 L886.5,528.5 L888.2,528.2 L889.8,527.9 L891.5,527.6 L893.1,527.2 L894.8,526.8 L896.5,526.5 L898.1,526.1 L899.8,525.8 L901.5,525.6 L903.1,525.4 L904.8,525.4 L906.5,525.4 L908.1,525.6 L909.8,525.9 L911.4,526.2 L913.1,526.6 L914.8,527.0 L916.4,527.4 L918.1,527.8 L919.8,528.2 L921.4,528.6 L923.1,528.9 L924.8,529.2 L926.4,529.5 L928.1,529.7 L929.8,529.8 L931.4,529.9 L933.1,529.9 L934.7,530.0 L936.4,530.0 L938.1,529.9 L939.7,529.9 L941.4,529.8 L943.1,529.7 L944.7,529.5 L946.4,529.4 L948.1,529.2 L949.7,529.0 L951.4,528.8 L953.0,528.6 L954.7,528.3 L956.4,528.1 L958.0,527.9 L959.7,527.7 L961.4,527.5 L963.0,527.3 L964.7,527.2 L966.4,527.0 L968.0,526.8 L969.7,526.6 L971.4,526.5 L973.0,526.5 L974.7,526.5 L976.3,526.5 L978.0,526.5 L979.7,526.6 L981.3,526.7 L983.0,526.8"/>
<path d="M151.0,519.0 L152.7,519.4 L154.3,519.8 L156.0,520.3 L157.7,520.7 L159.3,521.1 L161.0,521.3 L162.6,521.5 L164.3,521.7 L166.0,521.8 L167.6,521.8 L169.3,521.8 L171.0,521.8 L172.6,521.6 L174.3,521.4 L176.0,521.0 L177.6,520.5 L179.3,519.9 L181.0,519.2 L182.6,518.5 L184.3,517.8 L185.9,517.1 L187.6,516.4 L189.3,515.8 L190.9,515.1 L192.6,514.5 L194.3,513.9 L195.9,513.2 L197.6,512.6 L199.3,511.9 L200.9,511.2 L202.6,510.5 L204.2,509.8 L205.9,509.1 L207.6,508.4 L209.2,507.7 L210.9,506.9 L212.6,506.1 L214.2,505.3 L215.9,504.5 L217.6,503.7 L219.2,502.9 L220.9,502.0 L222.6,501.2 L224.2,500.3 L225.9,499.4 L227.5,498.4 L229.2,497.5 L230.9,496.5 L232.5,495.5 L234.2,494.4 L235.9,493.3 L237.5,492.1 L239.2,490.8 L240.9,489.5 L242.5,488.0 L244.2,486.4 L245.8,484.9 L247.5,483.5 L249.2,482.3 L250.8,481.2 L252.5,480.3 L254.2,479.6 L255.8,479.0 L257.5,478.6 L259.2,478.4 L260.8,478.5 L262.5,479.0 L264.2,479.7 L265.8,480.7 L267.5,481.9 L269.1,483.4 L270.8,485.1 L272.5,487.1 L274.1,489.4 L275.8,491.8 L277.5,494.4 L279.1,497.0 L280.8,499.6 L282.5,502.1 L284.1,504.5 L285.8,506.7 L287.4,508.6 L289.1,510.2 L290.8,511.7 L292.4,513.0 L294.1,514.2 L295.8,515.2 L297.4,516.2 L299.1,517.1 L300.8,517.9 L302.4,518.6 L304.1,519.3 L305.8,519.9 L307.4,520.4 L309.1,520.8 L310.7,521.2 L312.4,521.5 L314.1,521.8 L315.7,522.0 L317.4,522.3 L319.1,522.5 L320.7,522.6 L322.4,522.8 L324.1,522.9 L325.7,523.0 L327.4,523.0 L329.0,523.0 L330.7,523.0 L332.4,523.0 L334.0,522.9 L335.7,522.8 L337.4,522.7 L339.0,522.6 L340.7,522.5 L342.4,522.4 L344.0,522.3 L345.7,522.1 L347.4,522.0 L349.0,521.8 L350.7,521.7 L352.3,521.5 L354.0,521.3 L355.7,521.2 L357.3,521.0 L359.0,520.9 L360.7,520.7 L362.3,520.6 L364.0,520.4 L365.7,520.2 L367.3,520.0 L369.0,519.8 L370.6,519.6 L372.3,519.4 L374.0,519.2 L375.6,518.9 L377.3,518.7 L379.0,518.4 L380.6,518.1 L382.3,517.7 L384.0,517.3 L385.6,516.8 L387.3,516.2 L389.0,515.6 L390.6,515.1 L392.3,514.7 L393.9,514.4 L395.6,514.3 L397.3,514.3 L398.9,514.4 L400.6,514.7 L402.3,514.9 L403.9,515.2 L405.6,515.4 L407.3,515.6 L408.9,515.8 L410.6,515.9 L412.2,515.9 L413.9,515.8 L415.6,515.7 L417.2,515.6 L418.9,515.5 L420.6,515.3 L422.2,515.1 L423.9,514.9 L425.6,514.7 L427.2,514.5 L428.9,514.3 L430.6,514.1 L432.2,513.8 L433.9,513.5 L435.5,513.2 L437.2,512.8 L438.9,512.5 L440.5,512.1 L442.2,511.7 L443.9,511.4 L445.5,511.0 L447.2,510.7 L448.9,510.3 L450.5,510.0 L452.2,509.6 L453.8,509.3 L455.5,508.9 L457.2,508.6 L458.8,508.2 L460.5,507.9 L462.2,507.6 L463.8,507.4 L465.5,507.2 L467.2,507.1 L468.8,507.1 L470.5,507.2 L472.2,507.3 L473.8,507.5 L475.5,507.7 L477.1,507.9 L478.8,508.1 L480.5,508.2 L482.1,508.1 L483.8,508.0 L485.5,507.7 L487.1,507.2 L488.8,506.6 L490.5,505.8 L492.1,505.0 L493.8,504.2 L495.4,503.3 L497.1,502.4 L498.8,501.5 L500.4,500.5 L502.1,499.4 L503.8,498.1 L505.4,496.7 L507.1,495.1 L508.8,493.2 L510.4,491.1 L512.1,488.8 L513.8,486.2 L515.4,483.3 L517.1,480.2 L518.7,476.8 L520.4,473.0 L522.1,469.1 L523.7,464.8 L525.4,460.3 L527.1,455.6 L528.7,450.6 L530.4,445.6 L532.1,440.4 L533.7,435.1 L535.4,429.8 L537.0,424.6 L538.7,419.4 L540.4,414.5 L542.0,409.7 L543.7,405.3 L545.4,401.2 L547.0,397.5 L548.7,394.3 L550.4,391.6 L552.0,389.5 L553.7,387.9 L555.4,387.0 L557.0,386.8 L558.7,387.2 L560.3,388.2 L562.0,389.9 L563.7,392.2 L565.3,395.1 L567.0,398.5 L568.7,402.3 L570.3,406.7 L572.0,411.3 L573.7,416.3 L575.3,421.6 L577.0,427.0 L578.6,432.6 L580.3,438.2 L582.0,443.7 L583.6,449.3 L585.3,454.7 L587.0,460.0 L588.6,465.0 L590.3,469.9 L592.0,474.5 L593.6,478.8 L595.3,482.8 L597.0,486.6 L598.6,490.0 L600.3,493.2 L601.9,496.1 L603.6,498.7 L605.3,501.0 L606.9,503.1 L608.6,504.9 L610.3,506.5 L611.9,507.9 L613.6,509.1 L615.3,510.2 L616.9,511.1 L618.6,511.9 L620.2,512.5 L621.9,513.1 L623.6,513.6 L625.2,514.0 L626.9,514.3 L628.6,514.6 L630.2,514.9 L631.9,515.1 L633.6,515.3 L635.2,515.6 L636.9,515.8 L638.6,516.1 L640.2,516.3 L641.9,516.6 L643.5,516.9 L645.2,517.1 L646.9,517.3 L648.5,517.5 L650.2,517.7 L651.9,517.8 L653.5,517.9 L655.2,517.9 L656.9,518.0 L658.5,518.0 L660.2,518.0 L661.8,518.0 L663.5,518.0 L665.2,518.0 L666.8,518.0 L668.5,518.0 L670.2,518.0 L671.8,518.0 L673.5,518.0 L675.2,518.0 L676.8,518.0 L678.5,518.0 L680.2,518.0 L681.8,518.0 L683.5,518.0 L685.1,518.1 L686.8,518.3 L688.5,518.5 L690.1,518.7 L691.8,519.0 L693.5,519.2 L695.1,519.4 L696.8,519.5 L698.5,519.7 L700.1,519.9 L701.8,520.0 L703.4,520.2 L705.1,520.4 L706.8,520.7 L708.4,521.0 L710.1,521.5 L711.8,522.0 L713.4,522.6 L715.1,523.2 L716.8,523.8 L718.4,524.3 L720.1,524.9 L721.8,525.3 L723.4,525.8 L725.1,526.1 L726.7,526.4 L728.4,526.6 L730.1,526.7 L731.7,526.7 L733.4,526.6 L735.1,526.4 L736.7,526.2 L738.4,525.9 L740.1,525.6 L741.7,525.3 L743.4,525.0 L745.0,524.7 L746.7,524.4 L748.4,524.2 L750.0,524.0 L751.7,523.9 L753.4,523.7 L755.0,523.6 L756.7,523.5 L758.4,523.4 L760.0,523.3 L761.7,523.4 L763.4,523.5 L765.0,523.7 L766.7,524.0 L768.3,524.4 L770.0,524.8 L771.7,525.2 L773.3,525.7 L775.0,526.1 L776.7,526.5 L778.3,526.9 L780.0,527.3 L781.7,527.6 L783.3,527.9 L785.0,528.3 L786.6,528.6 L788.3,528.9 L790.0,529.2 L791.6,529.5 L793.3,529.8 L795.0,530.1 L796.6,530.4 L798.3,530.7 L800.0,530.9 L801.6,531.2 L803.3,531.4 L805.0,531.6 L806.6,531.9 L808.3,532.1 L809.9,532.3 L811.6,532.5 L813.3,532.7 L814.9,532.9 L816.6,533.1 L818.3,533.3 L819.9,533.4 L821.6,533.6 L823.3,533.8 L824.9,533.9 L826.6,534.0 L828.2,534.1 L829.9,534.1 L831.6,534.2 L833.2,534.2 L834.9,534.2 L836.6,534.2 L838.2,534.1 L839.9,534.1 L841.6,534.1 L843.2,534.1 L844.9,534.0 L846.6,534.0 L848.2,533.9 L849.9,533.9 L851.5,533.8 L853.2,533.7 L854.9,533.7 L856.5,533.6 L858.2,533.5 L859.9,533.4 L861.5,533.4 L863.2,533.3 L864.9,533.2 L866.5,533.1 L868.2,532.9 L869.8,532.8 L871.5,532.6 L873.2,532.3 L874.8,532.0 L876.5,531.7 L878.2,531.4 L879.8,531.1 L881.5,530.8 L883.2,530.5 L884.8,530.1 L886.5,529.8 L888.2,529.5 L889.8,529.1 L891.5,528.7 L893.1,528.4 L894.8,528.0 L896.5,527.8 L898.1,527.5 L899.8,527.3 L901.5,527.2 L903.1,527.2 L904.8,527.2 L906.5,527.3 L908.1,527.5 L909.8,527.7 L911.4,528.0 L913.1,528.3 L914.8,528.6 L916.4,529.0 L918.1,529.3 L919.8,529.6 L921.4,529.9 L923.1,530.1 L924.8,530.3 L926.4,530.5 L928.1,530.6 L929.8,530.7 L931.4,530.8 L933.1,530.9 L934.7,531.0 L936.4,531.0 L938.1,531.1 L939.7,531.2 L941.4,531.2 L943.1,531.3 L944.7,531.4 L946.4,531.4 L948.1,531.4 L949.7,531.5 L951.4,531.5 L953.0,531.5 L954.7,531.5 L956.4,531.5 L958.0,531.5 L959.7,531.5 L961.4,531.4 L963.0,531.3 L964.7,531.2 L966.4,531.0 L968.0,530.8 L969.7,530.7 L971.4,530.5 L973.0,530.3 L974.7,530.0 L976.3,529.8 L978.0,529.5 L979.7,529.3 L981.3,529.1 L983.0,528.9"/>
</g>
<rect x="150.9" y="15.9" width="831.9" height="531.3000000000001" fill="none" stroke="#161616" stroke-width="4"/>
<line x1="150.9" x2="159.9" y1="440.9" y2="440.9" stroke="#161616" stroke-width="3"/>
<line x1="150.9" x2="159.9" y1="334.7" y2="334.7" stroke="#161616" stroke-width="3"/>
<line x1="150.9" x2="159.9" y1="228.4" y2="228.4" stroke="#161616" stroke-width="3"/>
<line x1="150.9" x2="159.9" y1="122.2" y2="122.2" stroke="#161616" stroke-width="3"/>
<line x1="289.6" x2="289.6" y1="547.2" y2="538.2" stroke="#161616" stroke-width="3"/>
<line x1="428.2" x2="428.2" y1="547.2" y2="538.2" stroke="#161616" stroke-width="3"/>
<line x1="566.9" x2="566.9" y1="547.2" y2="538.2" stroke="#161616" stroke-width="3"/>
<line x1="705.5" x2="705.5" y1="547.2" y2="538.2" stroke="#161616" stroke-width="3"/>
<line x1="844.1" x2="844.1" y1="547.2" y2="538.2" stroke="#161616" stroke-width="3"/>
<text class="t" x="133" y="557.2" text-anchor="end">0</text>
<text class="t" x="133" y="450.8" text-anchor="end">100</text>
<text class="t" x="133" y="344.4" text-anchor="end">200</text>
<text class="t" x="133" y="237.9" text-anchor="end">300</text>
<text class="t" x="133" y="131.5" text-anchor="end">400</text>
<text class="t" x="133" y="25.1" text-anchor="end">500</text>
<text class="t" x="155.6" y="588" text-anchor="middle">350</text>
<text class="t" x="294.1" y="588" text-anchor="middle">375</text>
<text class="t" x="432.6" y="588" text-anchor="middle">400</text>
<text class="t" x="571.1" y="588" text-anchor="middle">425</text>
<text class="t" x="709.6" y="588" text-anchor="middle">450</text>
<text class="t" x="848.1" y="588" text-anchor="middle">475</text>
<text class="t" x="986.6" y="588" text-anchor="middle">500</text>
<text class="b" x="570.7" y="649.7" font-size="42" text-anchor="middle" textLength="296" lengthAdjust="spacingAndGlyphs">Wavelength (nm)</text>
<text class="b" transform="translate(38.3,285.4) rotate(-90)" font-size="42.5" text-anchor="middle" textLength="379" lengthAdjust="spacingAndGlyphs">Fluorescence Intensity</text>
<text x="196.5" y="79" font-size="63">a</text>
<line x1="500.3" x2="500.3" y1="83" y2="296" stroke="#242424" stroke-width="6"/>
<polygon points="500.3,301.5 489.8,283.5 492.8,281 500.3,291 507.8,281 510.8,283.5" fill="#242424"/>
<rect x="147.8" y="703.0" width="838.05" height="508.0" fill="none" stroke="#161616" stroke-width="4"/>
<line x1="147.8" x2="158.8" y1="1029.3" y2="1029.3" stroke="#161616" stroke-width="2"/>
<line x1="147.8" x2="158.8" y1="938.7" y2="938.7" stroke="#161616" stroke-width="2"/>
<line x1="147.8" x2="158.8" y1="848.1" y2="848.1" stroke="#161616" stroke-width="2"/>
<line x1="147.8" x2="158.8" y1="757.5" y2="757.5" stroke="#161616" stroke-width="2"/>
<line x1="287.5" x2="287.5" y1="1211.0" y2="1201.0" stroke="#161616" stroke-width="2"/>
<line x1="427.1" x2="427.1" y1="1211.0" y2="1201.0" stroke="#161616" stroke-width="2"/>
<line x1="566.8" x2="566.8" y1="1211.0" y2="1201.0" stroke="#161616" stroke-width="2"/>
<line x1="706.4" x2="706.4" y1="1211.0" y2="1201.0" stroke="#161616" stroke-width="2"/>
<line x1="846.0" x2="846.0" y1="1211.0" y2="1201.0" stroke="#161616" stroke-width="2"/>
<text class="t" x="132.3" y="1222.5" text-anchor="end">0.5</text>
<text class="t" x="132.3" y="1131.9" text-anchor="end">1</text>
<text class="t" x="132.3" y="1041.3" text-anchor="end">1.5</text>
<text class="t" x="132.3" y="950.7" text-anchor="end">2</text>
<text class="t" x="132.3" y="860.1" text-anchor="end">2.5</text>
<text class="t" x="132.3" y="769.5" text-anchor="end">3</text>
<text class="t" x="147.4" y="1248" text-anchor="middle">0</text>
<text class="t" x="286.8" y="1248" text-anchor="middle">5</text>
<text class="t" x="426.2" y="1248" text-anchor="middle">10</text>
<text class="t" x="565.6" y="1248" text-anchor="middle">15</text>
<text class="t" x="704.9" y="1248" text-anchor="middle">20</text>
<text class="t" x="844.3" y="1248" text-anchor="middle">25</text>
<text class="t" x="983.7" y="1248" text-anchor="middle">30</text>
<line x1="147.3" y1="1120.8" x2="870.8" y2="766" stroke="#161616" stroke-width="3.3"/>
<circle cx="147.2" cy="1119.7" r="8.2" fill="#161616"/>
<circle cx="215.7" cy="1078.9" r="8.2" fill="#161616"/>
<circle cx="280.4" cy="1047.3" r="8.2" fill="#161616"/>
<circle cx="342" cy="1027.1" r="8.2" fill="#161616"/>
<circle cx="401.3" cy="1004.6" r="8.2" fill="#161616"/>
<circle cx="457.7" cy="977.4" r="8.2" fill="#161616"/>
<circle cx="510" cy="953.8" r="8.2" fill="#161616"/>
<circle cx="562.4" cy="928.2" r="8.2" fill="#161616"/>
<circle cx="612.5" cy="900.6" r="8.2" fill="#161616"/>
<circle cx="705.7" cy="847.7" r="8.2" fill="#161616"/>
<circle cx="791.8" cy="803.5" r="8.2" fill="#161616"/>
<circle cx="871.2" cy="747.4" r="8.2" fill="#161616"/>
<text x="197.5" y="780.5" font-size="59">b</text>
<text class="b" transform="translate(28.9,958.3) rotate(-90)" font-size="42.5" text-anchor="middle" textLength="73.5" lengthAdjust="spacingAndGlyphs">F<tspan font-size="31" dy="8.5">0</tspan><tspan dy="-8.5">/F</tspan></text>
<text class="b" x="480.8" y="1313.7" font-size="36" textLength="179" lengthAdjust="spacingAndGlyphs">[CN<tspan font-size="26" dy="-15">-</tspan><tspan dy="15">]×10</tspan><tspan font-size="28" dy="-15">-6</tspan></text>
</g></svg></body></html>
